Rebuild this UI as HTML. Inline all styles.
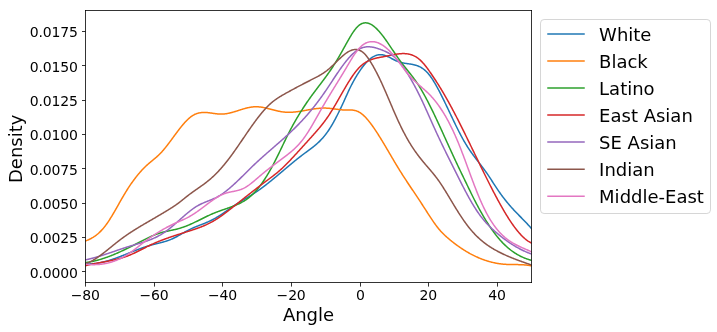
<!DOCTYPE html>
<html><head><meta charset="utf-8"><title>Angle density</title>
<style>html,body{margin:0;padding:0;background:#fff;}svg{display:block;}
text{font-family:"DejaVu Sans","Liberation Sans",sans-serif;}</style></head>
<body>
<svg width="717" height="332" viewBox="0 0 717 332">
<defs><clipPath id="ax"><rect x="85.5" y="10.5" width="446.0" height="272.0"/></clipPath></defs>
<rect x="0" y="0" width="717" height="332" fill="#fff"/>
<g clip-path="url(#ax)" fill="none" stroke-width="1.5" stroke-linejoin="round" stroke-linecap="square">
<path d="M84.50,263.68 L85.00,263.72 L85.50,263.76 L86.00,263.79 L86.50,263.82 L87.00,263.84 L87.50,263.86 L88.00,263.87 L88.50,263.88 L89.00,263.88 L89.50,263.88 L90.00,263.87 L90.50,263.85 L91.00,263.83 L91.50,263.81 L92.00,263.78 L92.50,263.75 L93.00,263.71 L93.50,263.67 L94.00,263.62 L94.50,263.57 L95.00,263.52 L95.50,263.46 L96.00,263.39 L96.50,263.33 L97.00,263.25 L97.50,263.18 L98.00,263.10 L98.50,263.01 L99.00,262.93 L99.50,262.83 L100.00,262.74 L100.50,262.64 L101.00,262.54 L101.50,262.43 L102.00,262.32 L102.50,262.21 L103.00,262.09 L103.50,261.97 L104.00,261.85 L104.50,261.72 L105.00,261.59 L105.50,261.46 L106.00,261.32 L106.50,261.19 L107.00,261.04 L107.50,260.90 L108.00,260.75 L108.50,260.60 L109.00,260.45 L109.50,260.30 L110.00,260.14 L110.50,259.98 L111.00,259.82 L111.50,259.66 L112.00,259.49 L112.50,259.32 L113.00,259.15 L113.50,258.98 L114.00,258.81 L114.50,258.63 L115.00,258.46 L115.50,258.28 L116.00,258.10 L116.50,257.91 L117.00,257.73 L117.50,257.54 L118.00,257.36 L118.50,257.17 L119.00,256.98 L119.50,256.79 L120.00,256.60 L120.50,256.40 L121.00,256.21 L121.50,256.01 L122.00,255.82 L122.50,255.62 L123.00,255.42 L123.50,255.23 L124.00,255.03 L124.50,254.83 L125.00,254.63 L125.50,254.43 L126.00,254.23 L126.50,254.03 L127.00,253.82 L127.50,253.62 L128.00,253.42 L128.50,253.22 L129.00,253.02 L129.50,252.82 L130.00,252.62 L130.50,252.41 L131.00,252.21 L131.50,252.01 L132.00,251.81 L132.50,251.61 L133.00,251.41 L133.50,251.22 L134.00,251.02 L134.50,250.82 L135.00,250.62 L135.50,250.43 L136.00,250.23 L136.50,250.04 L137.00,249.85 L137.50,249.66 L138.00,249.47 L138.50,249.28 L139.00,249.09 L139.50,248.90 L140.00,248.72 L140.50,248.53 L141.00,248.35 L141.50,248.17 L142.00,247.99 L142.50,247.82 L143.00,247.64 L143.50,247.47 L144.00,247.30 L144.50,247.13 L145.00,246.96 L145.50,246.80 L146.00,246.63 L146.50,246.47 L147.00,246.32 L147.50,246.16 L148.00,246.01 L148.50,245.86 L149.00,245.71 L149.50,245.56 L150.00,245.42 L150.50,245.28 L151.00,245.14 L151.50,245.01 L152.00,244.87 L152.50,244.74 L153.00,244.61 L153.50,244.49 L154.00,244.36 L154.50,244.23 L155.00,244.11 L155.50,243.99 L156.00,243.86 L156.50,243.74 L157.00,243.62 L157.50,243.50 L158.00,243.37 L158.50,243.25 L159.00,243.13 L159.50,243.00 L160.00,242.87 L160.50,242.75 L161.00,242.62 L161.50,242.49 L162.00,242.35 L162.50,242.22 L163.00,242.08 L163.50,241.94 L164.00,241.80 L164.50,241.65 L165.00,241.50 L165.50,241.35 L166.00,241.20 L166.50,241.04 L167.00,240.87 L167.50,240.70 L168.00,240.53 L168.50,240.36 L169.00,240.17 L169.50,239.99 L170.00,239.79 L170.50,239.60 L171.00,239.39 L171.50,239.18 L172.00,238.97 L172.50,238.75 L173.00,238.52 L173.50,238.28 L174.00,238.04 L174.50,237.80 L175.00,237.55 L175.50,237.29 L176.00,237.03 L176.50,236.77 L177.00,236.50 L177.50,236.23 L178.00,235.95 L178.50,235.67 L179.00,235.39 L179.50,235.11 L180.00,234.83 L180.50,234.54 L181.00,234.26 L181.50,233.97 L182.00,233.68 L182.50,233.40 L183.00,233.11 L183.50,232.82 L184.00,232.54 L184.50,232.26 L185.00,231.97 L185.50,231.69 L186.00,231.42 L186.50,231.14 L187.00,230.87 L187.50,230.61 L188.00,230.34 L188.50,230.08 L189.00,229.83 L189.50,229.58 L190.00,229.34 L190.50,229.10 L191.00,228.86 L191.50,228.63 L192.00,228.40 L192.50,228.18 L193.00,227.96 L193.50,227.74 L194.00,227.52 L194.50,227.31 L195.00,227.10 L195.50,226.90 L196.00,226.69 L196.50,226.49 L197.00,226.29 L197.50,226.09 L198.00,225.89 L198.50,225.69 L199.00,225.50 L199.50,225.30 L200.00,225.11 L200.50,224.91 L201.00,224.72 L201.50,224.52 L202.00,224.33 L202.50,224.13 L203.00,223.93 L203.50,223.73 L204.00,223.54 L204.50,223.33 L205.00,223.13 L205.50,222.93 L206.00,222.72 L206.50,222.51 L207.00,222.30 L207.50,222.08 L208.00,221.86 L208.50,221.64 L209.00,221.42 L209.50,221.19 L210.00,220.96 L210.50,220.72 L211.00,220.48 L211.50,220.23 L212.00,219.98 L212.50,219.73 L213.00,219.47 L213.50,219.20 L214.00,218.93 L214.50,218.65 L215.00,218.37 L215.50,218.09 L216.00,217.80 L216.50,217.50 L217.00,217.20 L217.50,216.90 L218.00,216.59 L218.50,216.28 L219.00,215.97 L219.50,215.65 L220.00,215.33 L220.50,215.01 L221.00,214.68 L221.50,214.35 L222.00,214.02 L222.50,213.69 L223.00,213.35 L223.50,213.01 L224.00,212.67 L224.50,212.33 L225.00,211.99 L225.50,211.65 L226.00,211.30 L226.50,210.96 L227.00,210.61 L227.50,210.27 L228.00,209.92 L228.50,209.58 L229.00,209.23 L229.50,208.88 L230.00,208.54 L230.50,208.19 L231.00,207.85 L231.50,207.51 L232.00,207.16 L232.50,206.82 L233.00,206.48 L233.50,206.15 L234.00,205.81 L234.50,205.48 L235.00,205.15 L235.50,204.82 L236.00,204.49 L236.50,204.17 L237.00,203.85 L237.50,203.53 L238.00,203.21 L238.50,202.90 L239.00,202.59 L239.50,202.28 L240.00,201.97 L240.50,201.66 L241.00,201.35 L241.50,201.05 L242.00,200.74 L242.50,200.44 L243.00,200.14 L243.50,199.84 L244.00,199.54 L244.50,199.23 L245.00,198.93 L245.50,198.63 L246.00,198.33 L246.50,198.03 L247.00,197.73 L247.50,197.43 L248.00,197.12 L248.50,196.82 L249.00,196.52 L249.50,196.21 L250.00,195.90 L250.50,195.59 L251.00,195.28 L251.50,194.97 L252.00,194.66 L252.50,194.34 L253.00,194.02 L253.50,193.70 L254.00,193.38 L254.50,193.06 L255.00,192.73 L255.50,192.40 L256.00,192.06 L256.50,191.72 L257.00,191.38 L257.50,191.04 L258.00,190.69 L258.50,190.34 L259.00,189.99 L259.50,189.64 L260.00,189.28 L260.50,188.92 L261.00,188.55 L261.50,188.19 L262.00,187.82 L262.50,187.45 L263.00,187.08 L263.50,186.70 L264.00,186.32 L264.50,185.94 L265.00,185.56 L265.50,185.17 L266.00,184.79 L266.50,184.40 L267.00,184.01 L267.50,183.61 L268.00,183.22 L268.50,182.82 L269.00,182.42 L269.50,182.02 L270.00,181.62 L270.50,181.22 L271.00,180.82 L271.50,180.41 L272.00,180.00 L272.50,179.59 L273.00,179.18 L273.50,178.77 L274.00,178.36 L274.50,177.95 L275.00,177.53 L275.50,177.12 L276.00,176.70 L276.50,176.28 L277.00,175.87 L277.50,175.45 L278.00,175.03 L278.50,174.61 L279.00,174.19 L279.50,173.77 L280.00,173.35 L280.50,172.92 L281.00,172.50 L281.50,172.08 L282.00,171.66 L282.50,171.23 L283.00,170.81 L283.50,170.39 L284.00,169.97 L284.50,169.54 L285.00,169.12 L285.50,168.70 L286.00,168.28 L286.50,167.85 L287.00,167.43 L287.50,167.01 L288.00,166.59 L288.50,166.17 L289.00,165.75 L289.50,165.33 L290.00,164.92 L290.50,164.50 L291.00,164.08 L291.50,163.67 L292.00,163.25 L292.50,162.84 L293.00,162.43 L293.50,162.02 L294.00,161.61 L294.50,161.20 L295.00,160.79 L295.50,160.38 L296.00,159.98 L296.50,159.58 L297.00,159.18 L297.50,158.78 L298.00,158.38 L298.50,157.98 L299.00,157.59 L299.50,157.19 L300.00,156.80 L300.50,156.41 L301.00,156.03 L301.50,155.64 L302.00,155.26 L302.50,154.88 L303.00,154.50 L303.50,154.12 L304.00,153.75 L304.50,153.38 L305.00,153.01 L305.50,152.64 L306.00,152.28 L306.50,151.91 L307.00,151.55 L307.50,151.18 L308.00,150.82 L308.50,150.45 L309.00,150.08 L309.50,149.71 L310.00,149.34 L310.50,148.97 L311.00,148.59 L311.50,148.21 L312.00,147.83 L312.50,147.44 L313.00,147.05 L313.50,146.65 L314.00,146.25 L314.50,145.84 L315.00,145.43 L315.50,145.01 L316.00,144.58 L316.50,144.15 L317.00,143.71 L317.50,143.26 L318.00,142.80 L318.50,142.33 L319.00,141.85 L319.50,141.37 L320.00,140.87 L320.50,140.36 L321.00,139.84 L321.50,139.31 L322.00,138.77 L322.50,138.22 L323.00,137.65 L323.50,137.08 L324.00,136.48 L324.50,135.88 L325.00,135.26 L325.50,134.62 L326.00,133.97 L326.50,133.31 L327.00,132.63 L327.50,131.93 L328.00,131.22 L328.50,130.49 L329.00,129.74 L329.50,128.97 L330.00,128.19 L330.50,127.39 L331.00,126.58 L331.50,125.75 L332.00,124.91 L332.50,124.05 L333.00,123.18 L333.50,122.29 L334.00,121.39 L334.50,120.48 L335.00,119.55 L335.50,118.61 L336.00,117.66 L336.50,116.70 L337.00,115.73 L337.50,114.74 L338.00,113.75 L338.50,112.74 L339.00,111.73 L339.50,110.70 L340.00,109.67 L340.50,108.62 L341.00,107.57 L341.50,106.51 L342.00,105.45 L342.50,104.37 L343.00,103.29 L343.50,102.20 L344.00,101.11 L344.50,100.01 L345.00,98.90 L345.50,97.79 L346.00,96.68 L346.50,95.57 L347.00,94.46 L347.50,93.36 L348.00,92.26 L348.50,91.18 L349.00,90.10 L349.50,89.05 L350.00,88.01 L350.50,86.99 L351.00,85.99 L351.50,85.01 L352.00,84.04 L352.50,83.09 L353.00,82.15 L353.50,81.24 L354.00,80.33 L354.50,79.45 L355.00,78.57 L355.50,77.72 L356.00,76.87 L356.50,76.04 L357.00,75.22 L357.50,74.42 L358.00,73.63 L358.50,72.85 L359.00,72.08 L359.50,71.33 L360.00,70.59 L360.50,69.86 L361.00,69.15 L361.50,68.45 L362.00,67.76 L362.50,67.09 L363.00,66.44 L363.50,65.80 L364.00,65.17 L364.50,64.56 L365.00,63.97 L365.50,63.39 L366.00,62.83 L366.50,62.29 L367.00,61.76 L367.50,61.25 L368.00,60.76 L368.50,60.29 L369.00,59.83 L369.50,59.39 L370.00,58.97 L370.50,58.57 L371.00,58.19 L371.50,57.83 L372.00,57.49 L372.50,57.16 L373.00,56.86 L373.50,56.57 L374.00,56.31 L374.50,56.06 L375.00,55.83 L375.50,55.63 L376.00,55.44 L376.50,55.27 L377.00,55.13 L377.50,55.00 L378.00,54.89 L378.50,54.81 L379.00,54.74 L379.50,54.70 L380.00,54.67 L380.50,54.67 L381.00,54.68 L381.50,54.72 L382.00,54.78 L382.50,54.85 L383.00,54.95 L383.50,55.06 L384.00,55.19 L384.50,55.34 L385.00,55.50 L385.50,55.67 L386.00,55.86 L386.50,56.06 L387.00,56.27 L387.50,56.48 L388.00,56.71 L388.50,56.94 L389.00,57.19 L389.50,57.43 L390.00,57.68 L390.50,57.94 L391.00,58.20 L391.50,58.46 L392.00,58.72 L392.50,58.98 L393.00,59.24 L393.50,59.50 L394.00,59.75 L394.50,60.00 L395.00,60.25 L395.50,60.49 L396.00,60.72 L396.50,60.94 L397.00,61.16 L397.50,61.36 L398.00,61.55 L398.50,61.74 L399.00,61.91 L399.50,62.07 L400.00,62.22 L400.50,62.36 L401.00,62.49 L401.50,62.61 L402.00,62.72 L402.50,62.83 L403.00,62.93 L403.50,63.03 L404.00,63.12 L404.50,63.21 L405.00,63.29 L405.50,63.37 L406.00,63.44 L406.50,63.52 L407.00,63.59 L407.50,63.66 L408.00,63.73 L408.50,63.80 L409.00,63.87 L409.50,63.95 L410.00,64.02 L410.50,64.10 L411.00,64.18 L411.50,64.27 L412.00,64.36 L412.50,64.45 L413.00,64.55 L413.50,64.66 L414.00,64.77 L414.50,64.90 L415.00,65.03 L415.50,65.17 L416.00,65.32 L416.50,65.47 L417.00,65.64 L417.50,65.82 L418.00,66.02 L418.50,66.22 L419.00,66.44 L419.50,66.67 L420.00,66.92 L420.50,67.18 L421.00,67.46 L421.50,67.75 L422.00,68.07 L422.50,68.39 L423.00,68.74 L423.50,69.10 L424.00,69.49 L424.50,69.89 L425.00,70.32 L425.50,70.76 L426.00,71.23 L426.50,71.72 L427.00,72.23 L427.50,72.77 L428.00,73.33 L428.50,73.92 L429.00,74.53 L429.50,75.16 L430.00,75.82 L430.50,76.49 L431.00,77.19 L431.50,77.91 L432.00,78.65 L432.50,79.41 L433.00,80.19 L433.50,80.98 L434.00,81.80 L434.50,82.63 L435.00,83.47 L435.50,84.33 L436.00,85.20 L436.50,86.09 L437.00,86.99 L437.50,87.91 L438.00,88.83 L438.50,89.76 L439.00,90.71 L439.50,91.67 L440.00,92.63 L440.50,93.60 L441.00,94.59 L441.50,95.58 L442.00,96.58 L442.50,97.58 L443.00,98.59 L443.50,99.61 L444.00,100.63 L444.50,101.66 L445.00,102.70 L445.50,103.74 L446.00,104.78 L446.50,105.82 L447.00,106.87 L447.50,107.92 L448.00,108.98 L448.50,110.03 L449.00,111.09 L449.50,112.15 L450.00,113.20 L450.50,114.26 L451.00,115.31 L451.50,116.37 L452.00,117.42 L452.50,118.47 L453.00,119.52 L453.50,120.57 L454.00,121.61 L454.50,122.65 L455.00,123.68 L455.50,124.71 L456.00,125.74 L456.50,126.75 L457.00,127.77 L457.50,128.77 L458.00,129.77 L458.50,130.76 L459.00,131.74 L459.50,132.71 L460.00,133.68 L460.50,134.63 L461.00,135.58 L461.50,136.52 L462.00,137.44 L462.50,138.35 L463.00,139.25 L463.50,140.14 L464.00,141.02 L464.50,141.88 L465.00,142.73 L465.50,143.57 L466.00,144.39 L466.50,145.20 L467.00,146.00 L467.50,146.78 L468.00,147.55 L468.50,148.32 L469.00,149.07 L469.50,149.81 L470.00,150.55 L470.50,151.27 L471.00,151.99 L471.50,152.69 L472.00,153.39 L472.50,154.09 L473.00,154.78 L473.50,155.46 L474.00,156.13 L474.50,156.80 L475.00,157.47 L475.50,158.13 L476.00,158.79 L476.50,159.45 L477.00,160.10 L477.50,160.75 L478.00,161.40 L478.50,162.05 L479.00,162.70 L479.50,163.35 L480.00,164.00 L480.50,164.65 L481.00,165.31 L481.50,165.96 L482.00,166.62 L482.50,167.28 L483.00,167.94 L483.50,168.61 L484.00,169.28 L484.50,169.96 L485.00,170.64 L485.50,171.33 L486.00,172.02 L486.50,172.73 L487.00,173.43 L487.50,174.15 L488.00,174.88 L488.50,175.61 L489.00,176.36 L489.50,177.11 L490.00,177.88 L490.50,178.65 L491.00,179.42 L491.50,180.20 L492.00,180.98 L492.50,181.77 L493.00,182.55 L493.50,183.34 L494.00,184.12 L494.50,184.90 L495.00,185.67 L495.50,186.43 L496.00,187.19 L496.50,187.94 L497.00,188.68 L497.50,189.42 L498.00,190.15 L498.50,190.88 L499.00,191.59 L499.50,192.30 L500.00,193.01 L500.50,193.70 L501.00,194.39 L501.50,195.08 L502.00,195.76 L502.50,196.43 L503.00,197.09 L503.50,197.75 L504.00,198.40 L504.50,199.05 L505.00,199.68 L505.50,200.32 L506.00,200.94 L506.50,201.56 L507.00,202.18 L507.50,202.79 L508.00,203.39 L508.50,203.98 L509.00,204.57 L509.50,205.15 L510.00,205.73 L510.50,206.30 L511.00,206.87 L511.50,207.43 L512.00,207.98 L512.50,208.53 L513.00,209.08 L513.50,209.62 L514.00,210.15 L514.50,210.69 L515.00,211.22 L515.50,211.74 L516.00,212.27 L516.50,212.79 L517.00,213.30 L517.50,213.82 L518.00,214.33 L518.50,214.85 L519.00,215.36 L519.50,215.87 L520.00,216.38 L520.50,216.89 L521.00,217.40 L521.50,217.90 L522.00,218.41 L522.50,218.92 L523.00,219.43 L523.50,219.95 L524.00,220.46 L524.50,220.98 L525.00,221.49 L525.50,222.01 L526.00,222.54 L526.50,223.06 L527.00,223.59 L527.50,224.12 L528.00,224.66 L528.50,225.20 L529.00,225.74 L529.50,226.29 L530.00,226.84 L530.50,227.40 L531.00,227.96 L531.50,228.53 L532.00,229.11 L532.50,229.69" stroke="#1f77b4"/>
<path d="M84.50,241.34 L85.00,241.16 L85.50,240.98 L86.00,240.79 L86.50,240.59 L87.00,240.39 L87.50,240.18 L88.00,239.97 L88.50,239.75 L89.00,239.51 L89.50,239.28 L90.00,239.03 L90.50,238.77 L91.00,238.51 L91.50,238.23 L92.00,237.95 L92.50,237.66 L93.00,237.36 L93.50,237.04 L94.00,236.72 L94.50,236.38 L95.00,236.04 L95.50,235.68 L96.00,235.31 L96.50,234.92 L97.00,234.53 L97.50,234.12 L98.00,233.70 L98.50,233.26 L99.00,232.82 L99.50,232.35 L100.00,231.88 L100.50,231.39 L101.00,230.88 L101.50,230.36 L102.00,229.82 L102.50,229.27 L103.00,228.70 L103.50,228.11 L104.00,227.51 L104.50,226.89 L105.00,226.25 L105.50,225.60 L106.00,224.92 L106.50,224.24 L107.00,223.53 L107.50,222.81 L108.00,222.08 L108.50,221.33 L109.00,220.57 L109.50,219.80 L110.00,219.01 L110.50,218.22 L111.00,217.41 L111.50,216.60 L112.00,215.77 L112.50,214.94 L113.00,214.10 L113.50,213.25 L114.00,212.39 L114.50,211.53 L115.00,210.66 L115.50,209.79 L116.00,208.92 L116.50,208.04 L117.00,207.16 L117.50,206.28 L118.00,205.40 L118.50,204.51 L119.00,203.63 L119.50,202.74 L120.00,201.86 L120.50,200.98 L121.00,200.11 L121.50,199.23 L122.00,198.36 L122.50,197.50 L123.00,196.64 L123.50,195.78 L124.00,194.94 L124.50,194.10 L125.00,193.26 L125.50,192.44 L126.00,191.63 L126.50,190.82 L127.00,190.02 L127.50,189.24 L128.00,188.46 L128.50,187.68 L129.00,186.92 L129.50,186.17 L130.00,185.42 L130.50,184.68 L131.00,183.95 L131.50,183.23 L132.00,182.52 L132.50,181.82 L133.00,181.12 L133.50,180.44 L134.00,179.76 L134.50,179.09 L135.00,178.43 L135.50,177.78 L136.00,177.13 L136.50,176.50 L137.00,175.87 L137.50,175.25 L138.00,174.64 L138.50,174.04 L139.00,173.45 L139.50,172.86 L140.00,172.29 L140.50,171.72 L141.00,171.16 L141.50,170.61 L142.00,170.06 L142.50,169.53 L143.00,169.00 L143.50,168.48 L144.00,167.97 L144.50,167.47 L145.00,166.98 L145.50,166.49 L146.00,166.01 L146.50,165.55 L147.00,165.09 L147.50,164.63 L148.00,164.19 L148.50,163.75 L149.00,163.32 L149.50,162.90 L150.00,162.48 L150.50,162.06 L151.00,161.65 L151.50,161.24 L152.00,160.83 L152.50,160.42 L153.00,160.01 L153.50,159.60 L154.00,159.19 L154.50,158.77 L155.00,158.35 L155.50,157.93 L156.00,157.50 L156.50,157.07 L157.00,156.63 L157.50,156.18 L158.00,155.72 L158.50,155.25 L159.00,154.77 L159.50,154.28 L160.00,153.78 L160.50,153.27 L161.00,152.74 L161.50,152.20 L162.00,151.65 L162.50,151.09 L163.00,150.51 L163.50,149.93 L164.00,149.34 L164.50,148.74 L165.00,148.13 L165.50,147.51 L166.00,146.89 L166.50,146.25 L167.00,145.62 L167.50,144.97 L168.00,144.32 L168.50,143.66 L169.00,143.00 L169.50,142.34 L170.00,141.67 L170.50,141.00 L171.00,140.32 L171.50,139.65 L172.00,138.97 L172.50,138.29 L173.00,137.61 L173.50,136.93 L174.00,136.24 L174.50,135.56 L175.00,134.89 L175.50,134.21 L176.00,133.53 L176.50,132.86 L177.00,132.19 L177.50,131.53 L178.00,130.86 L178.50,130.21 L179.00,129.56 L179.50,128.91 L180.00,128.27 L180.50,127.64 L181.00,127.01 L181.50,126.39 L182.00,125.78 L182.50,125.18 L183.00,124.58 L183.50,124.00 L184.00,123.43 L184.50,122.86 L185.00,122.31 L185.50,121.77 L186.00,121.24 L186.50,120.72 L187.00,120.22 L187.50,119.73 L188.00,119.25 L188.50,118.79 L189.00,118.34 L189.50,117.91 L190.00,117.50 L190.50,117.10 L191.00,116.71 L191.50,116.35 L192.00,116.00 L192.50,115.67 L193.00,115.36 L193.50,115.07 L194.00,114.80 L194.50,114.54 L195.00,114.30 L195.50,114.08 L196.00,113.88 L196.50,113.69 L197.00,113.52 L197.50,113.36 L198.00,113.21 L198.50,113.09 L199.00,112.97 L199.50,112.87 L200.00,112.78 L200.50,112.70 L201.00,112.63 L201.50,112.58 L202.00,112.54 L202.50,112.50 L203.00,112.48 L203.50,112.46 L204.00,112.46 L204.50,112.46 L205.00,112.47 L205.50,112.49 L206.00,112.51 L206.50,112.55 L207.00,112.58 L207.50,112.62 L208.00,112.67 L208.50,112.72 L209.00,112.78 L209.50,112.84 L210.00,112.90 L210.50,112.97 L211.00,113.04 L211.50,113.11 L212.00,113.18 L212.50,113.25 L213.00,113.32 L213.50,113.39 L214.00,113.46 L214.50,113.53 L215.00,113.59 L215.50,113.66 L216.00,113.72 L216.50,113.78 L217.00,113.84 L217.50,113.89 L218.00,113.94 L218.50,113.98 L219.00,114.01 L219.50,114.04 L220.00,114.07 L220.50,114.08 L221.00,114.09 L221.50,114.09 L222.00,114.09 L222.50,114.07 L223.00,114.05 L223.50,114.01 L224.00,113.97 L224.50,113.92 L225.00,113.87 L225.50,113.80 L226.00,113.73 L226.50,113.65 L227.00,113.57 L227.50,113.48 L228.00,113.38 L228.50,113.28 L229.00,113.17 L229.50,113.06 L230.00,112.94 L230.50,112.82 L231.00,112.70 L231.50,112.56 L232.00,112.43 L232.50,112.29 L233.00,112.15 L233.50,112.01 L234.00,111.86 L234.50,111.71 L235.00,111.56 L235.50,111.41 L236.00,111.25 L236.50,111.09 L237.00,110.94 L237.50,110.78 L238.00,110.62 L238.50,110.46 L239.00,110.30 L239.50,110.14 L240.00,109.98 L240.50,109.82 L241.00,109.66 L241.50,109.51 L242.00,109.35 L242.50,109.20 L243.00,109.05 L243.50,108.90 L244.00,108.76 L244.50,108.61 L245.00,108.47 L245.50,108.34 L246.00,108.20 L246.50,108.08 L247.00,107.95 L247.50,107.83 L248.00,107.72 L248.50,107.61 L249.00,107.50 L249.50,107.40 L250.00,107.31 L250.50,107.22 L251.00,107.14 L251.50,107.06 L252.00,107.00 L252.50,106.94 L253.00,106.88 L253.50,106.84 L254.00,106.80 L254.50,106.77 L255.00,106.75 L255.50,106.74 L256.00,106.73 L256.50,106.74 L257.00,106.75 L257.50,106.77 L258.00,106.80 L258.50,106.84 L259.00,106.88 L259.50,106.93 L260.00,106.98 L260.50,107.04 L261.00,107.11 L261.50,107.18 L262.00,107.26 L262.50,107.34 L263.00,107.43 L263.50,107.52 L264.00,107.62 L264.50,107.72 L265.00,107.83 L265.50,107.94 L266.00,108.05 L266.50,108.16 L267.00,108.28 L267.50,108.40 L268.00,108.52 L268.50,108.65 L269.00,108.77 L269.50,108.90 L270.00,109.03 L270.50,109.16 L271.00,109.29 L271.50,109.42 L272.00,109.55 L272.50,109.68 L273.00,109.81 L273.50,109.94 L274.00,110.07 L274.50,110.20 L275.00,110.33 L275.50,110.45 L276.00,110.57 L276.50,110.69 L277.00,110.81 L277.50,110.93 L278.00,111.04 L278.50,111.15 L279.00,111.26 L279.50,111.36 L280.00,111.46 L280.50,111.55 L281.00,111.64 L281.50,111.72 L282.00,111.80 L282.50,111.88 L283.00,111.95 L283.50,112.01 L284.00,112.07 L284.50,112.12 L285.00,112.16 L285.50,112.20 L286.00,112.23 L286.50,112.26 L287.00,112.28 L287.50,112.29 L288.00,112.30 L288.50,112.31 L289.00,112.31 L289.50,112.30 L290.00,112.29 L290.50,112.28 L291.00,112.26 L291.50,112.24 L292.00,112.21 L292.50,112.18 L293.00,112.14 L293.50,112.10 L294.00,112.06 L294.50,112.01 L295.00,111.96 L295.50,111.91 L296.00,111.85 L296.50,111.79 L297.00,111.73 L297.50,111.66 L298.00,111.59 L298.50,111.52 L299.00,111.45 L299.50,111.38 L300.00,111.30 L300.50,111.22 L301.00,111.14 L301.50,111.06 L302.00,110.98 L302.50,110.89 L303.00,110.81 L303.50,110.72 L304.00,110.64 L304.50,110.55 L305.00,110.46 L305.50,110.37 L306.00,110.28 L306.50,110.19 L307.00,110.10 L307.50,110.01 L308.00,109.93 L308.50,109.84 L309.00,109.75 L309.50,109.66 L310.00,109.58 L310.50,109.49 L311.00,109.41 L311.50,109.32 L312.00,109.24 L312.50,109.16 L313.00,109.08 L313.50,109.01 L314.00,108.93 L314.50,108.86 L315.00,108.79 L315.50,108.72 L316.00,108.66 L316.50,108.60 L317.00,108.54 L317.50,108.48 L318.00,108.43 L318.50,108.38 L319.00,108.33 L319.50,108.29 L320.00,108.25 L320.50,108.21 L321.00,108.18 L321.50,108.15 L322.00,108.13 L322.50,108.11 L323.00,108.09 L323.50,108.08 L324.00,108.08 L324.50,108.08 L325.00,108.08 L325.50,108.09 L326.00,108.11 L326.50,108.13 L327.00,108.15 L327.50,108.18 L328.00,108.22 L328.50,108.26 L329.00,108.30 L329.50,108.35 L330.00,108.40 L330.50,108.45 L331.00,108.51 L331.50,108.57 L332.00,108.63 L332.50,108.69 L333.00,108.75 L333.50,108.82 L334.00,108.89 L334.50,108.95 L335.00,109.02 L335.50,109.09 L336.00,109.16 L336.50,109.22 L337.00,109.29 L337.50,109.35 L338.00,109.42 L338.50,109.48 L339.00,109.54 L339.50,109.60 L340.00,109.65 L340.50,109.70 L341.00,109.75 L341.50,109.80 L342.00,109.84 L342.50,109.88 L343.00,109.91 L343.50,109.94 L344.00,109.96 L344.50,109.98 L345.00,109.99 L345.50,110.00 L346.00,110.00 L346.50,110.00 L347.00,109.99 L347.50,109.99 L348.00,109.98 L348.50,109.98 L349.00,109.98 L349.50,109.98 L350.00,109.98 L350.50,109.99 L351.00,110.01 L351.50,110.03 L352.00,110.06 L352.50,110.11 L353.00,110.16 L353.50,110.23 L354.00,110.30 L354.50,110.40 L355.00,110.50 L355.50,110.63 L356.00,110.77 L356.50,110.93 L357.00,111.11 L357.50,111.32 L358.00,111.54 L358.50,111.79 L359.00,112.05 L359.50,112.34 L360.00,112.65 L360.50,112.99 L361.00,113.34 L361.50,113.71 L362.00,114.10 L362.50,114.51 L363.00,114.93 L363.50,115.38 L364.00,115.84 L364.50,116.32 L365.00,116.82 L365.50,117.33 L366.00,117.86 L366.50,118.41 L367.00,118.97 L367.50,119.54 L368.00,120.13 L368.50,120.73 L369.00,121.35 L369.50,121.98 L370.00,122.62 L370.50,123.27 L371.00,123.93 L371.50,124.61 L372.00,125.30 L372.50,125.99 L373.00,126.70 L373.50,127.41 L374.00,128.14 L374.50,128.87 L375.00,129.61 L375.50,130.36 L376.00,131.12 L376.50,131.88 L377.00,132.65 L377.50,133.43 L378.00,134.21 L378.50,135.00 L379.00,135.79 L379.50,136.59 L380.00,137.39 L380.50,138.20 L381.00,139.01 L381.50,139.83 L382.00,140.65 L382.50,141.47 L383.00,142.30 L383.50,143.13 L384.00,143.96 L384.50,144.80 L385.00,145.64 L385.50,146.48 L386.00,147.32 L386.50,148.17 L387.00,149.02 L387.50,149.87 L388.00,150.72 L388.50,151.57 L389.00,152.42 L389.50,153.27 L390.00,154.12 L390.50,154.97 L391.00,155.82 L391.50,156.67 L392.00,157.52 L392.50,158.37 L393.00,159.22 L393.50,160.07 L394.00,160.91 L394.50,161.76 L395.00,162.60 L395.50,163.43 L396.00,164.27 L396.50,165.10 L397.00,165.93 L397.50,166.76 L398.00,167.58 L398.50,168.40 L399.00,169.21 L399.50,170.02 L400.00,170.83 L400.50,171.63 L401.00,172.43 L401.50,173.22 L402.00,174.01 L402.50,174.80 L403.00,175.58 L403.50,176.36 L404.00,177.13 L404.50,177.90 L405.00,178.67 L405.50,179.44 L406.00,180.20 L406.50,180.96 L407.00,181.72 L407.50,182.47 L408.00,183.23 L408.50,183.98 L409.00,184.73 L409.50,185.48 L410.00,186.23 L410.50,186.98 L411.00,187.72 L411.50,188.47 L412.00,189.21 L412.50,189.96 L413.00,190.70 L413.50,191.44 L414.00,192.19 L414.50,192.93 L415.00,193.68 L415.50,194.42 L416.00,195.17 L416.50,195.91 L417.00,196.66 L417.50,197.41 L418.00,198.16 L418.50,198.91 L419.00,199.67 L419.50,200.42 L420.00,201.18 L420.50,201.94 L421.00,202.70 L421.50,203.47 L422.00,204.23 L422.50,205.00 L423.00,205.78 L423.50,206.55 L424.00,207.33 L424.50,208.11 L425.00,208.90 L425.50,209.68 L426.00,210.46 L426.50,211.24 L427.00,212.02 L427.50,212.80 L428.00,213.58 L428.50,214.36 L429.00,215.13 L429.50,215.90 L430.00,216.67 L430.50,217.43 L431.00,218.18 L431.50,218.93 L432.00,219.68 L432.50,220.42 L433.00,221.15 L433.50,221.87 L434.00,222.58 L434.50,223.29 L435.00,223.99 L435.50,224.68 L436.00,225.35 L436.50,226.02 L437.00,226.67 L437.50,227.32 L438.00,227.95 L438.50,228.57 L439.00,229.17 L439.50,229.76 L440.00,230.34 L440.50,230.91 L441.00,231.46 L441.50,232.00 L442.00,232.53 L442.50,233.04 L443.00,233.55 L443.50,234.05 L444.00,234.54 L444.50,235.02 L445.00,235.49 L445.50,235.95 L446.00,236.40 L446.50,236.85 L447.00,237.30 L447.50,237.73 L448.00,238.16 L448.50,238.59 L449.00,239.01 L449.50,239.43 L450.00,239.84 L450.50,240.26 L451.00,240.66 L451.50,241.07 L452.00,241.47 L452.50,241.87 L453.00,242.26 L453.50,242.65 L454.00,243.04 L454.50,243.42 L455.00,243.80 L455.50,244.18 L456.00,244.55 L456.50,244.92 L457.00,245.29 L457.50,245.65 L458.00,246.01 L458.50,246.36 L459.00,246.71 L459.50,247.06 L460.00,247.41 L460.50,247.75 L461.00,248.09 L461.50,248.42 L462.00,248.75 L462.50,249.08 L463.00,249.40 L463.50,249.72 L464.00,250.04 L464.50,250.35 L465.00,250.66 L465.50,250.97 L466.00,251.27 L466.50,251.57 L467.00,251.87 L467.50,252.16 L468.00,252.45 L468.50,252.74 L469.00,253.02 L469.50,253.30 L470.00,253.57 L470.50,253.85 L471.00,254.11 L471.50,254.38 L472.00,254.64 L472.50,254.90 L473.00,255.15 L473.50,255.40 L474.00,255.65 L474.50,255.90 L475.00,256.14 L475.50,256.37 L476.00,256.61 L476.50,256.84 L477.00,257.06 L477.50,257.29 L478.00,257.51 L478.50,257.72 L479.00,257.94 L479.50,258.15 L480.00,258.35 L480.50,258.56 L481.00,258.75 L481.50,258.95 L482.00,259.14 L482.50,259.33 L483.00,259.52 L483.50,259.70 L484.00,259.88 L484.50,260.05 L485.00,260.23 L485.50,260.39 L486.00,260.56 L486.50,260.72 L487.00,260.88 L487.50,261.03 L488.00,261.18 L488.50,261.33 L489.00,261.48 L489.50,261.62 L490.00,261.75 L490.50,261.89 L491.00,262.02 L491.50,262.15 L492.00,262.27 L492.50,262.39 L493.00,262.51 L493.50,262.62 L494.00,262.73 L494.50,262.84 L495.00,262.94 L495.50,263.04 L496.00,263.14 L496.50,263.23 L497.00,263.32 L497.50,263.41 L498.00,263.49 L498.50,263.57 L499.00,263.64 L499.50,263.72 L500.00,263.79 L500.50,263.85 L501.00,263.91 L501.50,263.97 L502.00,264.03 L502.50,264.08 L503.00,264.13 L503.50,264.17 L504.00,264.22 L504.50,264.26 L505.00,264.29 L505.50,264.32 L506.00,264.35 L506.50,264.38 L507.00,264.40 L507.50,264.43 L508.00,264.44 L508.50,264.46 L509.00,264.48 L509.50,264.49 L510.00,264.50 L510.50,264.51 L511.00,264.52 L511.50,264.53 L512.00,264.54 L512.50,264.55 L513.00,264.55 L513.50,264.56 L514.00,264.56 L514.50,264.57 L515.00,264.57 L515.50,264.58 L516.00,264.59 L516.50,264.59 L517.00,264.60 L517.50,264.61 L518.00,264.62 L518.50,264.63 L519.00,264.64 L519.50,264.65 L520.00,264.67 L520.50,264.69 L521.00,264.71 L521.50,264.73 L522.00,264.75 L522.50,264.78 L523.00,264.81 L523.50,264.84 L524.00,264.87 L524.50,264.91 L525.00,264.95 L525.50,265.00 L526.00,265.05 L526.50,265.10 L527.00,265.16 L527.50,265.22 L528.00,265.28 L528.50,265.35 L529.00,265.43 L529.50,265.51 L530.00,265.59 L530.50,265.68 L531.00,265.77 L531.50,265.87 L532.00,265.98 L532.50,266.09" stroke="#ff7f0e"/>
<path d="M84.50,262.67 L85.00,262.62 L85.50,262.56 L86.00,262.50 L86.50,262.43 L87.00,262.36 L87.50,262.29 L88.00,262.22 L88.50,262.14 L89.00,262.06 L89.50,261.97 L90.00,261.89 L90.50,261.79 L91.00,261.70 L91.50,261.60 L92.00,261.50 L92.50,261.40 L93.00,261.29 L93.50,261.18 L94.00,261.07 L94.50,260.96 L95.00,260.84 L95.50,260.72 L96.00,260.59 L96.50,260.47 L97.00,260.34 L97.50,260.20 L98.00,260.07 L98.50,259.93 L99.00,259.79 L99.50,259.65 L100.00,259.50 L100.50,259.35 L101.00,259.20 L101.50,259.05 L102.00,258.89 L102.50,258.73 L103.00,258.57 L103.50,258.41 L104.00,258.24 L104.50,258.07 L105.00,257.90 L105.50,257.73 L106.00,257.56 L106.50,257.38 L107.00,257.20 L107.50,257.02 L108.00,256.83 L108.50,256.65 L109.00,256.46 L109.50,256.27 L110.00,256.08 L110.50,255.88 L111.00,255.69 L111.50,255.49 L112.00,255.29 L112.50,255.09 L113.00,254.88 L113.50,254.68 L114.00,254.47 L114.50,254.26 L115.00,254.05 L115.50,253.84 L116.00,253.63 L116.50,253.41 L117.00,253.19 L117.50,252.97 L118.00,252.75 L118.50,252.53 L119.00,252.31 L119.50,252.08 L120.00,251.85 L120.50,251.63 L121.00,251.40 L121.50,251.17 L122.00,250.93 L122.50,250.70 L123.00,250.47 L123.50,250.23 L124.00,249.99 L124.50,249.76 L125.00,249.52 L125.50,249.28 L126.00,249.03 L126.50,248.79 L127.00,248.55 L127.50,248.30 L128.00,248.06 L128.50,247.81 L129.00,247.56 L129.50,247.31 L130.00,247.06 L130.50,246.81 L131.00,246.56 L131.50,246.31 L132.00,246.06 L132.50,245.81 L133.00,245.55 L133.50,245.30 L134.00,245.04 L134.50,244.79 L135.00,244.53 L135.50,244.27 L136.00,244.02 L136.50,243.76 L137.00,243.50 L137.50,243.24 L138.00,242.98 L138.50,242.72 L139.00,242.46 L139.50,242.20 L140.00,241.94 L140.50,241.68 L141.00,241.42 L141.50,241.16 L142.00,240.91 L142.50,240.65 L143.00,240.39 L143.50,240.13 L144.00,239.88 L144.50,239.63 L145.00,239.37 L145.50,239.12 L146.00,238.87 L146.50,238.62 L147.00,238.38 L147.50,238.13 L148.00,237.89 L148.50,237.65 L149.00,237.41 L149.50,237.18 L150.00,236.94 L150.50,236.71 L151.00,236.49 L151.50,236.26 L152.00,236.04 L152.50,235.82 L153.00,235.61 L153.50,235.40 L154.00,235.19 L154.50,234.99 L155.00,234.79 L155.50,234.59 L156.00,234.40 L156.50,234.21 L157.00,234.03 L157.50,233.85 L158.00,233.68 L158.50,233.51 L159.00,233.34 L159.50,233.18 L160.00,233.03 L160.50,232.88 L161.00,232.73 L161.50,232.59 L162.00,232.45 L162.50,232.32 L163.00,232.19 L163.50,232.06 L164.00,231.94 L164.50,231.82 L165.00,231.70 L165.50,231.58 L166.00,231.47 L166.50,231.36 L167.00,231.24 L167.50,231.14 L168.00,231.03 L168.50,230.92 L169.00,230.81 L169.50,230.71 L170.00,230.60 L170.50,230.50 L171.00,230.39 L171.50,230.28 L172.00,230.18 L172.50,230.07 L173.00,229.96 L173.50,229.85 L174.00,229.74 L174.50,229.63 L175.00,229.51 L175.50,229.40 L176.00,229.28 L176.50,229.15 L177.00,229.03 L177.50,228.90 L178.00,228.77 L178.50,228.64 L179.00,228.50 L179.50,228.36 L180.00,228.21 L180.50,228.06 L181.00,227.90 L181.50,227.74 L182.00,227.58 L182.50,227.41 L183.00,227.24 L183.50,227.06 L184.00,226.89 L184.50,226.70 L185.00,226.52 L185.50,226.33 L186.00,226.13 L186.50,225.94 L187.00,225.74 L187.50,225.53 L188.00,225.33 L188.50,225.12 L189.00,224.91 L189.50,224.69 L190.00,224.48 L190.50,224.26 L191.00,224.03 L191.50,223.81 L192.00,223.58 L192.50,223.35 L193.00,223.12 L193.50,222.89 L194.00,222.65 L194.50,222.42 L195.00,222.18 L195.50,221.94 L196.00,221.70 L196.50,221.45 L197.00,221.21 L197.50,220.96 L198.00,220.72 L198.50,220.47 L199.00,220.22 L199.50,219.97 L200.00,219.72 L200.50,219.48 L201.00,219.23 L201.50,218.98 L202.00,218.73 L202.50,218.48 L203.00,218.23 L203.50,217.98 L204.00,217.73 L204.50,217.49 L205.00,217.24 L205.50,217.00 L206.00,216.75 L206.50,216.51 L207.00,216.27 L207.50,216.03 L208.00,215.80 L208.50,215.56 L209.00,215.33 L209.50,215.10 L210.00,214.87 L210.50,214.64 L211.00,214.42 L211.50,214.20 L212.00,213.98 L212.50,213.76 L213.00,213.55 L213.50,213.34 L214.00,213.13 L214.50,212.93 L215.00,212.73 L215.50,212.53 L216.00,212.34 L216.50,212.15 L217.00,211.96 L217.50,211.77 L218.00,211.58 L218.50,211.40 L219.00,211.22 L219.50,211.03 L220.00,210.86 L220.50,210.68 L221.00,210.50 L221.50,210.32 L222.00,210.15 L222.50,209.97 L223.00,209.80 L223.50,209.63 L224.00,209.45 L224.50,209.28 L225.00,209.11 L225.50,208.94 L226.00,208.76 L226.50,208.59 L227.00,208.42 L227.50,208.24 L228.00,208.07 L228.50,207.89 L229.00,207.71 L229.50,207.53 L230.00,207.35 L230.50,207.17 L231.00,206.99 L231.50,206.81 L232.00,206.62 L232.50,206.43 L233.00,206.24 L233.50,206.05 L234.00,205.85 L234.50,205.65 L235.00,205.45 L235.50,205.25 L236.00,205.04 L236.50,204.83 L237.00,204.62 L237.50,204.40 L238.00,204.17 L238.50,203.95 L239.00,203.71 L239.50,203.48 L240.00,203.23 L240.50,202.98 L241.00,202.73 L241.50,202.46 L242.00,202.19 L242.50,201.92 L243.00,201.64 L243.50,201.34 L244.00,201.05 L244.50,200.74 L245.00,200.42 L245.50,200.10 L246.00,199.76 L246.50,199.42 L247.00,199.07 L247.50,198.71 L248.00,198.33 L248.50,197.95 L249.00,197.56 L249.50,197.15 L250.00,196.73 L250.50,196.30 L251.00,195.86 L251.50,195.41 L252.00,194.95 L252.50,194.47 L253.00,193.98 L253.50,193.48 L254.00,192.97 L254.50,192.44 L255.00,191.91 L255.50,191.36 L256.00,190.80 L256.50,190.22 L257.00,189.64 L257.50,189.04 L258.00,188.44 L258.50,187.82 L259.00,187.18 L259.50,186.54 L260.00,185.89 L260.50,185.22 L261.00,184.55 L261.50,183.86 L262.00,183.16 L262.50,182.45 L263.00,181.73 L263.50,180.99 L264.00,180.25 L264.50,179.49 L265.00,178.73 L265.50,177.95 L266.00,177.16 L266.50,176.36 L267.00,175.55 L267.50,174.73 L268.00,173.90 L268.50,173.06 L269.00,172.20 L269.50,171.34 L270.00,170.46 L270.50,169.58 L271.00,168.68 L271.50,167.78 L272.00,166.86 L272.50,165.93 L273.00,165.00 L273.50,164.05 L274.00,163.09 L274.50,162.12 L275.00,161.15 L275.50,160.16 L276.00,159.17 L276.50,158.16 L277.00,157.16 L277.50,156.14 L278.00,155.12 L278.50,154.09 L279.00,153.06 L279.50,152.03 L280.00,150.99 L280.50,149.95 L281.00,148.91 L281.50,147.87 L282.00,146.82 L282.50,145.78 L283.00,144.74 L283.50,143.70 L284.00,142.66 L284.50,141.62 L285.00,140.59 L285.50,139.56 L286.00,138.53 L286.50,137.51 L287.00,136.50 L287.50,135.49 L288.00,134.49 L288.50,133.50 L289.00,132.52 L289.50,131.54 L290.00,130.58 L290.50,129.62 L291.00,128.68 L291.50,127.74 L292.00,126.81 L292.50,125.88 L293.00,124.97 L293.50,124.06 L294.00,123.17 L294.50,122.28 L295.00,121.40 L295.50,120.52 L296.00,119.65 L296.50,118.80 L297.00,117.94 L297.50,117.10 L298.00,116.26 L298.50,115.43 L299.00,114.61 L299.50,113.79 L300.00,112.98 L300.50,112.18 L301.00,111.38 L301.50,110.59 L302.00,109.81 L302.50,109.03 L303.00,108.25 L303.50,107.49 L304.00,106.73 L304.50,105.97 L305.00,105.22 L305.50,104.48 L306.00,103.74 L306.50,103.00 L307.00,102.27 L307.50,101.55 L308.00,100.83 L308.50,100.12 L309.00,99.40 L309.50,98.70 L310.00,98.00 L310.50,97.30 L311.00,96.61 L311.50,95.92 L312.00,95.23 L312.50,94.55 L313.00,93.87 L313.50,93.19 L314.00,92.52 L314.50,91.85 L315.00,91.19 L315.50,90.52 L316.00,89.86 L316.50,89.20 L317.00,88.54 L317.50,87.88 L318.00,87.22 L318.50,86.57 L319.00,85.91 L319.50,85.25 L320.00,84.60 L320.50,83.94 L321.00,83.28 L321.50,82.62 L322.00,81.96 L322.50,81.30 L323.00,80.63 L323.50,79.97 L324.00,79.30 L324.50,78.62 L325.00,77.95 L325.50,77.27 L326.00,76.59 L326.50,75.90 L327.00,75.21 L327.50,74.51 L328.00,73.81 L328.50,73.11 L329.00,72.40 L329.50,71.68 L330.00,70.96 L330.50,70.23 L331.00,69.50 L331.50,68.75 L332.00,68.01 L332.50,67.25 L333.00,66.49 L333.50,65.71 L334.00,64.93 L334.50,64.15 L335.00,63.35 L335.50,62.54 L336.00,61.73 L336.50,60.90 L337.00,60.07 L337.50,59.23 L338.00,58.38 L338.50,57.53 L339.00,56.67 L339.50,55.80 L340.00,54.93 L340.50,54.05 L341.00,53.17 L341.50,52.29 L342.00,51.40 L342.50,50.51 L343.00,49.61 L343.50,48.72 L344.00,47.82 L344.50,46.92 L345.00,46.02 L345.50,45.12 L346.00,44.22 L346.50,43.32 L347.00,42.43 L347.50,41.54 L348.00,40.65 L348.50,39.77 L349.00,38.90 L349.50,38.04 L350.00,37.19 L350.50,36.35 L351.00,35.53 L351.50,34.72 L352.00,33.93 L352.50,33.16 L353.00,32.40 L353.50,31.67 L354.00,30.96 L354.50,30.27 L355.00,29.61 L355.50,28.97 L356.00,28.36 L356.50,27.78 L357.00,27.23 L357.50,26.71 L358.00,26.22 L358.50,25.77 L359.00,25.35 L359.50,24.97 L360.00,24.62 L360.50,24.30 L361.00,24.01 L361.50,23.76 L362.00,23.54 L362.50,23.35 L363.00,23.19 L363.50,23.06 L364.00,22.96 L364.50,22.89 L365.00,22.85 L365.50,22.83 L366.00,22.85 L366.50,22.89 L367.00,22.96 L367.50,23.05 L368.00,23.17 L368.50,23.31 L369.00,23.48 L369.50,23.68 L370.00,23.89 L370.50,24.13 L371.00,24.39 L371.50,24.68 L372.00,24.98 L372.50,25.31 L373.00,25.66 L373.50,26.03 L374.00,26.42 L374.50,26.82 L375.00,27.25 L375.50,27.69 L376.00,28.15 L376.50,28.63 L377.00,29.13 L377.50,29.64 L378.00,30.16 L378.50,30.71 L379.00,31.26 L379.50,31.83 L380.00,32.41 L380.50,33.01 L381.00,33.62 L381.50,34.24 L382.00,34.87 L382.50,35.51 L383.00,36.16 L383.50,36.82 L384.00,37.49 L384.50,38.17 L385.00,38.86 L385.50,39.56 L386.00,40.26 L386.50,40.97 L387.00,41.68 L387.50,42.40 L388.00,43.13 L388.50,43.86 L389.00,44.59 L389.50,45.33 L390.00,46.07 L390.50,46.81 L391.00,47.56 L391.50,48.30 L392.00,49.05 L392.50,49.80 L393.00,50.54 L393.50,51.29 L394.00,52.03 L394.50,52.78 L395.00,53.52 L395.50,54.25 L396.00,54.99 L396.50,55.72 L397.00,56.44 L397.50,57.16 L398.00,57.88 L398.50,58.59 L399.00,59.29 L399.50,59.99 L400.00,60.67 L400.50,61.35 L401.00,62.03 L401.50,62.69 L402.00,63.35 L402.50,64.00 L403.00,64.65 L403.50,65.29 L404.00,65.92 L404.50,66.56 L405.00,67.19 L405.50,67.81 L406.00,68.44 L406.50,69.06 L407.00,69.69 L407.50,70.31 L408.00,70.93 L408.50,71.56 L409.00,72.18 L409.50,72.81 L410.00,73.44 L410.50,74.08 L411.00,74.71 L411.50,75.36 L412.00,76.01 L412.50,76.66 L413.00,77.32 L413.50,77.99 L414.00,78.66 L414.50,79.35 L415.00,80.04 L415.50,80.74 L416.00,81.46 L416.50,82.18 L417.00,82.91 L417.50,83.66 L418.00,84.42 L418.50,85.19 L419.00,85.97 L419.50,86.77 L420.00,87.57 L420.50,88.39 L421.00,89.22 L421.50,90.06 L422.00,90.92 L422.50,91.78 L423.00,92.65 L423.50,93.54 L424.00,94.43 L424.50,95.33 L425.00,96.24 L425.50,97.16 L426.00,98.09 L426.50,99.03 L427.00,99.98 L427.50,100.94 L428.00,101.90 L428.50,102.87 L429.00,103.85 L429.50,104.84 L430.00,105.83 L430.50,106.83 L431.00,107.83 L431.50,108.85 L432.00,109.86 L432.50,110.89 L433.00,111.92 L433.50,112.95 L434.00,113.99 L434.50,115.04 L435.00,116.09 L435.50,117.14 L436.00,118.20 L436.50,119.27 L437.00,120.34 L437.50,121.41 L438.00,122.48 L438.50,123.56 L439.00,124.64 L439.50,125.73 L440.00,126.81 L440.50,127.90 L441.00,128.99 L441.50,130.09 L442.00,131.18 L442.50,132.28 L443.00,133.38 L443.50,134.48 L444.00,135.58 L444.50,136.69 L445.00,137.79 L445.50,138.89 L446.00,140.00 L446.50,141.10 L447.00,142.20 L447.50,143.31 L448.00,144.41 L448.50,145.51 L449.00,146.61 L449.50,147.71 L450.00,148.81 L450.50,149.91 L451.00,151.00 L451.50,152.09 L452.00,153.18 L452.50,154.27 L453.00,155.36 L453.50,156.44 L454.00,157.52 L454.50,158.59 L455.00,159.67 L455.50,160.73 L456.00,161.80 L456.50,162.86 L457.00,163.92 L457.50,164.97 L458.00,166.03 L458.50,167.08 L459.00,168.12 L459.50,169.17 L460.00,170.21 L460.50,171.25 L461.00,172.29 L461.50,173.33 L462.00,174.37 L462.50,175.40 L463.00,176.44 L463.50,177.47 L464.00,178.51 L464.50,179.54 L465.00,180.58 L465.50,181.61 L466.00,182.65 L466.50,183.69 L467.00,184.73 L467.50,185.76 L468.00,186.80 L468.50,187.84 L469.00,188.87 L469.50,189.90 L470.00,190.93 L470.50,191.95 L471.00,192.98 L471.50,193.99 L472.00,195.00 L472.50,196.01 L473.00,197.01 L473.50,198.00 L474.00,198.99 L474.50,199.97 L475.00,200.94 L475.50,201.91 L476.00,202.87 L476.50,203.82 L477.00,204.77 L477.50,205.71 L478.00,206.64 L478.50,207.57 L479.00,208.49 L479.50,209.40 L480.00,210.30 L480.50,211.20 L481.00,212.09 L481.50,212.97 L482.00,213.85 L482.50,214.72 L483.00,215.58 L483.50,216.43 L484.00,217.28 L484.50,218.12 L485.00,218.95 L485.50,219.77 L486.00,220.58 L486.50,221.39 L487.00,222.19 L487.50,222.98 L488.00,223.76 L488.50,224.53 L489.00,225.30 L489.50,226.06 L490.00,226.81 L490.50,227.55 L491.00,228.28 L491.50,229.00 L492.00,229.72 L492.50,230.42 L493.00,231.12 L493.50,231.81 L494.00,232.49 L494.50,233.16 L495.00,233.82 L495.50,234.48 L496.00,235.12 L496.50,235.75 L497.00,236.38 L497.50,237.00 L498.00,237.60 L498.50,238.20 L499.00,238.79 L499.50,239.36 L500.00,239.93 L500.50,240.49 L501.00,241.05 L501.50,241.59 L502.00,242.12 L502.50,242.64 L503.00,243.16 L503.50,243.67 L504.00,244.16 L504.50,244.65 L505.00,245.13 L505.50,245.61 L506.00,246.07 L506.50,246.53 L507.00,246.97 L507.50,247.41 L508.00,247.84 L508.50,248.27 L509.00,248.68 L509.50,249.09 L510.00,249.49 L510.50,249.88 L511.00,250.27 L511.50,250.64 L512.00,251.01 L512.50,251.38 L513.00,251.73 L513.50,252.08 L514.00,252.42 L514.50,252.75 L515.00,253.08 L515.50,253.40 L516.00,253.71 L516.50,254.01 L517.00,254.31 L517.50,254.60 L518.00,254.89 L518.50,255.17 L519.00,255.44 L519.50,255.70 L520.00,255.96 L520.50,256.22 L521.00,256.46 L521.50,256.70 L522.00,256.94 L522.50,257.17 L523.00,257.39 L523.50,257.61 L524.00,257.82 L524.50,258.02 L525.00,258.22 L525.50,258.42 L526.00,258.61 L526.50,258.79 L527.00,258.97 L527.50,259.14 L528.00,259.31 L528.50,259.47 L529.00,259.63 L529.50,259.78 L530.00,259.93 L530.50,260.07 L531.00,260.21 L531.50,260.35 L532.00,260.48 L532.50,260.60" stroke="#2ca02c"/>
<path d="M84.50,266.03 L85.00,265.89 L85.50,265.75 L86.00,265.62 L86.50,265.49 L87.00,265.36 L87.50,265.23 L88.00,265.11 L88.50,264.99 L89.00,264.87 L89.50,264.75 L90.00,264.63 L90.50,264.52 L91.00,264.41 L91.50,264.30 L92.00,264.19 L92.50,264.08 L93.00,263.98 L93.50,263.88 L94.00,263.77 L94.50,263.67 L95.00,263.57 L95.50,263.47 L96.00,263.38 L96.50,263.28 L97.00,263.18 L97.50,263.09 L98.00,263.00 L98.50,262.90 L99.00,262.81 L99.50,262.72 L100.00,262.63 L100.50,262.53 L101.00,262.44 L101.50,262.35 L102.00,262.26 L102.50,262.17 L103.00,262.08 L103.50,261.99 L104.00,261.90 L104.50,261.81 L105.00,261.72 L105.50,261.62 L106.00,261.53 L106.50,261.44 L107.00,261.34 L107.50,261.25 L108.00,261.16 L108.50,261.06 L109.00,260.96 L109.50,260.86 L110.00,260.77 L110.50,260.67 L111.00,260.56 L111.50,260.46 L112.00,260.36 L112.50,260.25 L113.00,260.14 L113.50,260.03 L114.00,259.92 L114.50,259.81 L115.00,259.70 L115.50,259.58 L116.00,259.46 L116.50,259.34 L117.00,259.22 L117.50,259.09 L118.00,258.97 L118.50,258.84 L119.00,258.70 L119.50,258.57 L120.00,258.43 L120.50,258.29 L121.00,258.15 L121.50,258.00 L122.00,257.85 L122.50,257.70 L123.00,257.55 L123.50,257.39 L124.00,257.23 L124.50,257.06 L125.00,256.89 L125.50,256.72 L126.00,256.55 L126.50,256.37 L127.00,256.18 L127.50,256.00 L128.00,255.81 L128.50,255.61 L129.00,255.41 L129.50,255.21 L130.00,255.00 L130.50,254.79 L131.00,254.58 L131.50,254.36 L132.00,254.14 L132.50,253.92 L133.00,253.69 L133.50,253.46 L134.00,253.22 L134.50,252.99 L135.00,252.75 L135.50,252.51 L136.00,252.27 L136.50,252.02 L137.00,251.78 L137.50,251.53 L138.00,251.28 L138.50,251.03 L139.00,250.78 L139.50,250.52 L140.00,250.27 L140.50,250.01 L141.00,249.76 L141.50,249.50 L142.00,249.25 L142.50,248.99 L143.00,248.73 L143.50,248.48 L144.00,248.22 L144.50,247.97 L145.00,247.71 L145.50,247.46 L146.00,247.21 L146.50,246.95 L147.00,246.70 L147.50,246.45 L148.00,246.21 L148.50,245.96 L149.00,245.72 L149.50,245.48 L150.00,245.24 L150.50,245.00 L151.00,244.76 L151.50,244.53 L152.00,244.30 L152.50,244.07 L153.00,243.85 L153.50,243.62 L154.00,243.40 L154.50,243.18 L155.00,242.97 L155.50,242.75 L156.00,242.54 L156.50,242.32 L157.00,242.12 L157.50,241.91 L158.00,241.70 L158.50,241.50 L159.00,241.30 L159.50,241.09 L160.00,240.90 L160.50,240.70 L161.00,240.50 L161.50,240.31 L162.00,240.12 L162.50,239.93 L163.00,239.74 L163.50,239.55 L164.00,239.36 L164.50,239.18 L165.00,238.99 L165.50,238.81 L166.00,238.63 L166.50,238.45 L167.00,238.27 L167.50,238.09 L168.00,237.92 L168.50,237.74 L169.00,237.57 L169.50,237.39 L170.00,237.22 L170.50,237.05 L171.00,236.88 L171.50,236.71 L172.00,236.54 L172.50,236.38 L173.00,236.21 L173.50,236.04 L174.00,235.88 L174.50,235.71 L175.00,235.55 L175.50,235.39 L176.00,235.22 L176.50,235.06 L177.00,234.90 L177.50,234.74 L178.00,234.58 L178.50,234.42 L179.00,234.26 L179.50,234.10 L180.00,233.94 L180.50,233.78 L181.00,233.62 L181.50,233.46 L182.00,233.31 L182.50,233.15 L183.00,232.99 L183.50,232.83 L184.00,232.67 L184.50,232.52 L185.00,232.36 L185.50,232.20 L186.00,232.04 L186.50,231.89 L187.00,231.73 L187.50,231.57 L188.00,231.41 L188.50,231.25 L189.00,231.09 L189.50,230.93 L190.00,230.77 L190.50,230.61 L191.00,230.45 L191.50,230.29 L192.00,230.13 L192.50,229.97 L193.00,229.80 L193.50,229.64 L194.00,229.47 L194.50,229.30 L195.00,229.13 L195.50,228.96 L196.00,228.79 L196.50,228.61 L197.00,228.44 L197.50,228.26 L198.00,228.08 L198.50,227.90 L199.00,227.71 L199.50,227.53 L200.00,227.34 L200.50,227.15 L201.00,226.95 L201.50,226.76 L202.00,226.56 L202.50,226.36 L203.00,226.15 L203.50,225.94 L204.00,225.73 L204.50,225.52 L205.00,225.30 L205.50,225.08 L206.00,224.85 L206.50,224.63 L207.00,224.39 L207.50,224.16 L208.00,223.92 L208.50,223.68 L209.00,223.43 L209.50,223.18 L210.00,222.92 L210.50,222.66 L211.00,222.39 L211.50,222.12 L212.00,221.85 L212.50,221.57 L213.00,221.28 L213.50,221.00 L214.00,220.70 L214.50,220.40 L215.00,220.10 L215.50,219.79 L216.00,219.48 L216.50,219.16 L217.00,218.84 L217.50,218.52 L218.00,218.19 L218.50,217.85 L219.00,217.52 L219.50,217.18 L220.00,216.83 L220.50,216.49 L221.00,216.13 L221.50,215.78 L222.00,215.42 L222.50,215.06 L223.00,214.70 L223.50,214.34 L224.00,213.97 L224.50,213.60 L225.00,213.22 L225.50,212.85 L226.00,212.47 L226.50,212.09 L227.00,211.71 L227.50,211.32 L228.00,210.94 L228.50,210.55 L229.00,210.16 L229.50,209.77 L230.00,209.38 L230.50,208.99 L231.00,208.59 L231.50,208.20 L232.00,207.80 L232.50,207.40 L233.00,207.01 L233.50,206.61 L234.00,206.21 L234.50,205.81 L235.00,205.41 L235.50,205.01 L236.00,204.62 L236.50,204.22 L237.00,203.82 L237.50,203.42 L238.00,203.02 L238.50,202.62 L239.00,202.22 L239.50,201.82 L240.00,201.43 L240.50,201.03 L241.00,200.63 L241.50,200.23 L242.00,199.83 L242.50,199.44 L243.00,199.04 L243.50,198.64 L244.00,198.25 L244.50,197.85 L245.00,197.45 L245.50,197.06 L246.00,196.66 L246.50,196.27 L247.00,195.87 L247.50,195.48 L248.00,195.08 L248.50,194.69 L249.00,194.30 L249.50,193.90 L250.00,193.51 L250.50,193.12 L251.00,192.72 L251.50,192.33 L252.00,191.94 L252.50,191.55 L253.00,191.16 L253.50,190.77 L254.00,190.38 L254.50,189.99 L255.00,189.61 L255.50,189.22 L256.00,188.83 L256.50,188.44 L257.00,188.06 L257.50,187.67 L258.00,187.29 L258.50,186.90 L259.00,186.52 L259.50,186.14 L260.00,185.76 L260.50,185.37 L261.00,184.99 L261.50,184.61 L262.00,184.23 L262.50,183.85 L263.00,183.48 L263.50,183.10 L264.00,182.72 L264.50,182.35 L265.00,181.97 L265.50,181.60 L266.00,181.22 L266.50,180.85 L267.00,180.48 L267.50,180.11 L268.00,179.73 L268.50,179.36 L269.00,178.99 L269.50,178.62 L270.00,178.25 L270.50,177.87 L271.00,177.50 L271.50,177.12 L272.00,176.74 L272.50,176.36 L273.00,175.98 L273.50,175.60 L274.00,175.21 L274.50,174.82 L275.00,174.42 L275.50,174.03 L276.00,173.63 L276.50,173.22 L277.00,172.81 L277.50,172.40 L278.00,171.98 L278.50,171.55 L279.00,171.12 L279.50,170.69 L280.00,170.25 L280.50,169.80 L281.00,169.35 L281.50,168.89 L282.00,168.43 L282.50,167.97 L283.00,167.49 L283.50,167.02 L284.00,166.54 L284.50,166.05 L285.00,165.56 L285.50,165.07 L286.00,164.57 L286.50,164.06 L287.00,163.56 L287.50,163.04 L288.00,162.53 L288.50,162.01 L289.00,161.49 L289.50,160.96 L290.00,160.44 L290.50,159.91 L291.00,159.38 L291.50,158.84 L292.00,158.30 L292.50,157.77 L293.00,157.23 L293.50,156.69 L294.00,156.15 L294.50,155.60 L295.00,155.06 L295.50,154.52 L296.00,153.97 L296.50,153.43 L297.00,152.88 L297.50,152.34 L298.00,151.79 L298.50,151.25 L299.00,150.70 L299.50,150.15 L300.00,149.60 L300.50,149.06 L301.00,148.51 L301.50,147.96 L302.00,147.41 L302.50,146.86 L303.00,146.31 L303.50,145.76 L304.00,145.21 L304.50,144.66 L305.00,144.11 L305.50,143.55 L306.00,143.00 L306.50,142.45 L307.00,141.89 L307.50,141.34 L308.00,140.79 L308.50,140.23 L309.00,139.67 L309.50,139.12 L310.00,138.56 L310.50,138.00 L311.00,137.45 L311.50,136.89 L312.00,136.33 L312.50,135.77 L313.00,135.21 L313.50,134.65 L314.00,134.09 L314.50,133.53 L315.00,132.97 L315.50,132.40 L316.00,131.83 L316.50,131.26 L317.00,130.69 L317.50,130.11 L318.00,129.53 L318.50,128.95 L319.00,128.36 L319.50,127.76 L320.00,127.16 L320.50,126.56 L321.00,125.95 L321.50,125.33 L322.00,124.71 L322.50,124.07 L323.00,123.44 L323.50,122.79 L324.00,122.13 L324.50,121.47 L325.00,120.80 L325.50,120.12 L326.00,119.43 L326.50,118.73 L327.00,118.01 L327.50,117.29 L328.00,116.56 L328.50,115.82 L329.00,115.06 L329.50,114.30 L330.00,113.53 L330.50,112.75 L331.00,111.96 L331.50,111.16 L332.00,110.36 L332.50,109.54 L333.00,108.72 L333.50,107.90 L334.00,107.07 L334.50,106.23 L335.00,105.39 L335.50,104.54 L336.00,103.69 L336.50,102.83 L337.00,101.97 L337.50,101.10 L338.00,100.24 L338.50,99.37 L339.00,98.49 L339.50,97.62 L340.00,96.74 L340.50,95.87 L341.00,94.99 L341.50,94.11 L342.00,93.24 L342.50,92.36 L343.00,91.49 L343.50,90.62 L344.00,89.75 L344.50,88.89 L345.00,88.03 L345.50,87.17 L346.00,86.32 L346.50,85.48 L347.00,84.64 L347.50,83.81 L348.00,82.98 L348.50,82.17 L349.00,81.36 L349.50,80.56 L350.00,79.78 L350.50,79.00 L351.00,78.23 L351.50,77.47 L352.00,76.73 L352.50,76.00 L353.00,75.28 L353.50,74.57 L354.00,73.88 L354.50,73.20 L355.00,72.53 L355.50,71.88 L356.00,71.25 L356.50,70.63 L357.00,70.03 L357.50,69.45 L358.00,68.88 L358.50,68.34 L359.00,67.81 L359.50,67.30 L360.00,66.80 L360.50,66.33 L361.00,65.87 L361.50,65.43 L362.00,65.01 L362.50,64.60 L363.00,64.20 L363.50,63.83 L364.00,63.46 L364.50,63.12 L365.00,62.78 L365.50,62.46 L366.00,62.15 L366.50,61.86 L367.00,61.58 L367.50,61.31 L368.00,61.05 L368.50,60.80 L369.00,60.57 L369.50,60.34 L370.00,60.13 L370.50,59.92 L371.00,59.73 L371.50,59.54 L372.00,59.36 L372.50,59.19 L373.00,59.03 L373.50,58.87 L374.00,58.73 L374.50,58.58 L375.00,58.45 L375.50,58.32 L376.00,58.19 L376.50,58.08 L377.00,57.96 L377.50,57.85 L378.00,57.74 L378.50,57.64 L379.00,57.54 L379.50,57.44 L380.00,57.35 L380.50,57.25 L381.00,57.16 L381.50,57.07 L382.00,56.98 L382.50,56.89 L383.00,56.80 L383.50,56.71 L384.00,56.62 L384.50,56.53 L385.00,56.43 L385.50,56.34 L386.00,56.24 L386.50,56.14 L387.00,56.04 L387.50,55.93 L388.00,55.83 L388.50,55.73 L389.00,55.62 L389.50,55.52 L390.00,55.41 L390.50,55.31 L391.00,55.20 L391.50,55.10 L392.00,55.00 L392.50,54.90 L393.00,54.80 L393.50,54.71 L394.00,54.61 L394.50,54.52 L395.00,54.43 L395.50,54.35 L396.00,54.26 L396.50,54.18 L397.00,54.11 L397.50,54.04 L398.00,53.97 L398.50,53.91 L399.00,53.85 L399.50,53.80 L400.00,53.75 L400.50,53.71 L401.00,53.68 L401.50,53.65 L402.00,53.62 L402.50,53.61 L403.00,53.60 L403.50,53.60 L404.00,53.60 L404.50,53.62 L405.00,53.64 L405.50,53.67 L406.00,53.71 L406.50,53.75 L407.00,53.81 L407.50,53.88 L408.00,53.96 L408.50,54.05 L409.00,54.15 L409.50,54.26 L410.00,54.38 L410.50,54.51 L411.00,54.66 L411.50,54.82 L412.00,55.00 L412.50,55.19 L413.00,55.39 L413.50,55.60 L414.00,55.84 L414.50,56.08 L415.00,56.35 L415.50,56.62 L416.00,56.92 L416.50,57.23 L417.00,57.56 L417.50,57.90 L418.00,58.27 L418.50,58.65 L419.00,59.05 L419.50,59.47 L420.00,59.91 L420.50,60.37 L421.00,60.85 L421.50,61.35 L422.00,61.86 L422.50,62.40 L423.00,62.95 L423.50,63.51 L424.00,64.10 L424.50,64.70 L425.00,65.31 L425.50,65.93 L426.00,66.57 L426.50,67.22 L427.00,67.88 L427.50,68.56 L428.00,69.24 L428.50,69.93 L429.00,70.63 L429.50,71.34 L430.00,72.06 L430.50,72.78 L431.00,73.51 L431.50,74.24 L432.00,74.98 L432.50,75.72 L433.00,76.46 L433.50,77.21 L434.00,77.97 L434.50,78.72 L435.00,79.49 L435.50,80.26 L436.00,81.03 L436.50,81.80 L437.00,82.59 L437.50,83.37 L438.00,84.16 L438.50,84.96 L439.00,85.76 L439.50,86.56 L440.00,87.37 L440.50,88.19 L441.00,89.01 L441.50,89.84 L442.00,90.67 L442.50,91.50 L443.00,92.35 L443.50,93.19 L444.00,94.04 L444.50,94.90 L445.00,95.77 L445.50,96.63 L446.00,97.51 L446.50,98.39 L447.00,99.27 L447.50,100.16 L448.00,101.06 L448.50,101.96 L449.00,102.87 L449.50,103.78 L450.00,104.69 L450.50,105.62 L451.00,106.54 L451.50,107.47 L452.00,108.41 L452.50,109.34 L453.00,110.29 L453.50,111.23 L454.00,112.19 L454.50,113.14 L455.00,114.10 L455.50,115.06 L456.00,116.03 L456.50,117.00 L457.00,117.97 L457.50,118.95 L458.00,119.93 L458.50,120.91 L459.00,121.90 L459.50,122.89 L460.00,123.88 L460.50,124.88 L461.00,125.88 L461.50,126.88 L462.00,127.88 L462.50,128.88 L463.00,129.89 L463.50,130.90 L464.00,131.91 L464.50,132.93 L465.00,133.94 L465.50,134.96 L466.00,135.98 L466.50,137.00 L467.00,138.02 L467.50,139.05 L468.00,140.07 L468.50,141.10 L469.00,142.13 L469.50,143.16 L470.00,144.19 L470.50,145.22 L471.00,146.25 L471.50,147.28 L472.00,148.31 L472.50,149.34 L473.00,150.38 L473.50,151.41 L474.00,152.44 L474.50,153.48 L475.00,154.51 L475.50,155.54 L476.00,156.58 L476.50,157.61 L477.00,158.64 L477.50,159.67 L478.00,160.70 L478.50,161.73 L479.00,162.76 L479.50,163.79 L480.00,164.82 L480.50,165.84 L481.00,166.87 L481.50,167.89 L482.00,168.91 L482.50,169.93 L483.00,170.95 L483.50,171.97 L484.00,172.99 L484.50,174.00 L485.00,175.01 L485.50,176.02 L486.00,177.03 L486.50,178.03 L487.00,179.03 L487.50,180.03 L488.00,181.03 L488.50,182.02 L489.00,183.02 L489.50,184.00 L490.00,184.99 L490.50,185.97 L491.00,186.95 L491.50,187.93 L492.00,188.90 L492.50,189.87 L493.00,190.84 L493.50,191.80 L494.00,192.75 L494.50,193.71 L495.00,194.66 L495.50,195.60 L496.00,196.55 L496.50,197.48 L497.00,198.42 L497.50,199.35 L498.00,200.27 L498.50,201.19 L499.00,202.10 L499.50,203.01 L500.00,203.92 L500.50,204.81 L501.00,205.71 L501.50,206.59 L502.00,207.47 L502.50,208.35 L503.00,209.22 L503.50,210.08 L504.00,210.93 L504.50,211.78 L505.00,212.62 L505.50,213.46 L506.00,214.29 L506.50,215.11 L507.00,215.92 L507.50,216.72 L508.00,217.52 L508.50,218.31 L509.00,219.09 L509.50,219.86 L510.00,220.62 L510.50,221.38 L511.00,222.12 L511.50,222.86 L512.00,223.59 L512.50,224.30 L513.00,225.01 L513.50,225.71 L514.00,226.40 L514.50,227.08 L515.00,227.75 L515.50,228.41 L516.00,229.05 L516.50,229.69 L517.00,230.32 L517.50,230.93 L518.00,231.54 L518.50,232.13 L519.00,232.71 L519.50,233.28 L520.00,233.84 L520.50,234.38 L521.00,234.92 L521.50,235.44 L522.00,235.95 L522.50,236.44 L523.00,236.92 L523.50,237.39 L524.00,237.85 L524.50,238.30 L525.00,238.73 L525.50,239.14 L526.00,239.55 L526.50,239.93 L527.00,240.31 L527.50,240.67 L528.00,241.02 L528.50,241.35 L529.00,241.66 L529.50,241.97 L530.00,242.25 L530.50,242.52 L531.00,242.78 L531.50,243.02 L532.00,243.24 L532.50,243.45" stroke="#d62728"/>
<path d="M84.00,260.16 L84.50,260.06 L85.00,259.96 L85.50,259.85 L86.00,259.74 L86.50,259.64 L87.00,259.52 L87.50,259.41 L88.00,259.30 L88.50,259.18 L89.00,259.06 L89.50,258.94 L90.00,258.82 L90.50,258.70 L91.00,258.57 L91.50,258.44 L92.00,258.32 L92.50,258.19 L93.00,258.05 L93.50,257.92 L94.00,257.79 L94.50,257.65 L95.00,257.51 L95.50,257.37 L96.00,257.23 L96.50,257.09 L97.00,256.95 L97.50,256.80 L98.00,256.66 L98.50,256.51 L99.00,256.36 L99.50,256.21 L100.00,256.06 L100.50,255.91 L101.00,255.75 L101.50,255.60 L102.00,255.44 L102.50,255.28 L103.00,255.12 L103.50,254.97 L104.00,254.80 L104.50,254.64 L105.00,254.48 L105.50,254.32 L106.00,254.15 L106.50,253.99 L107.00,253.82 L107.50,253.65 L108.00,253.49 L108.50,253.32 L109.00,253.15 L109.50,252.98 L110.00,252.81 L110.50,252.64 L111.00,252.47 L111.50,252.30 L112.00,252.13 L112.50,251.95 L113.00,251.78 L113.50,251.61 L114.00,251.44 L114.50,251.27 L115.00,251.09 L115.50,250.92 L116.00,250.75 L116.50,250.58 L117.00,250.40 L117.50,250.23 L118.00,250.06 L118.50,249.89 L119.00,249.72 L119.50,249.55 L120.00,249.38 L120.50,249.21 L121.00,249.04 L121.50,248.87 L122.00,248.70 L122.50,248.54 L123.00,248.37 L123.50,248.20 L124.00,248.04 L124.50,247.87 L125.00,247.71 L125.50,247.55 L126.00,247.39 L126.50,247.23 L127.00,247.07 L127.50,246.91 L128.00,246.76 L128.50,246.60 L129.00,246.45 L129.50,246.29 L130.00,246.14 L130.50,245.99 L131.00,245.84 L131.50,245.70 L132.00,245.55 L132.50,245.40 L133.00,245.26 L133.50,245.11 L134.00,244.96 L134.50,244.82 L135.00,244.67 L135.50,244.53 L136.00,244.38 L136.50,244.24 L137.00,244.09 L137.50,243.95 L138.00,243.80 L138.50,243.65 L139.00,243.51 L139.50,243.36 L140.00,243.21 L140.50,243.06 L141.00,242.90 L141.50,242.75 L142.00,242.60 L142.50,242.44 L143.00,242.28 L143.50,242.12 L144.00,241.96 L144.50,241.80 L145.00,241.63 L145.50,241.46 L146.00,241.29 L146.50,241.12 L147.00,240.94 L147.50,240.77 L148.00,240.58 L148.50,240.40 L149.00,240.21 L149.50,240.02 L150.00,239.83 L150.50,239.63 L151.00,239.43 L151.50,239.23 L152.00,239.02 L152.50,238.81 L153.00,238.60 L153.50,238.38 L154.00,238.16 L154.50,237.93 L155.00,237.70 L155.50,237.46 L156.00,237.22 L156.50,236.97 L157.00,236.72 L157.50,236.47 L158.00,236.21 L158.50,235.94 L159.00,235.67 L159.50,235.40 L160.00,235.11 L160.50,234.83 L161.00,234.53 L161.50,234.24 L162.00,233.93 L162.50,233.62 L163.00,233.30 L163.50,232.98 L164.00,232.65 L164.50,232.32 L165.00,231.97 L165.50,231.62 L166.00,231.27 L166.50,230.91 L167.00,230.54 L167.50,230.16 L168.00,229.78 L168.50,229.40 L169.00,229.01 L169.50,228.61 L170.00,228.21 L170.50,227.80 L171.00,227.39 L171.50,226.98 L172.00,226.56 L172.50,226.14 L173.00,225.72 L173.50,225.29 L174.00,224.86 L174.50,224.43 L175.00,223.99 L175.50,223.55 L176.00,223.11 L176.50,222.67 L177.00,222.23 L177.50,221.79 L178.00,221.34 L178.50,220.90 L179.00,220.45 L179.50,220.00 L180.00,219.56 L180.50,219.11 L181.00,218.67 L181.50,218.22 L182.00,217.78 L182.50,217.34 L183.00,216.90 L183.50,216.46 L184.00,216.02 L184.50,215.58 L185.00,215.15 L185.50,214.72 L186.00,214.29 L186.50,213.87 L187.00,213.45 L187.50,213.03 L188.00,212.62 L188.50,212.21 L189.00,211.80 L189.50,211.40 L190.00,211.01 L190.50,210.62 L191.00,210.23 L191.50,209.85 L192.00,209.48 L192.50,209.11 L193.00,208.75 L193.50,208.40 L194.00,208.05 L194.50,207.71 L195.00,207.38 L195.50,207.05 L196.00,206.73 L196.50,206.42 L197.00,206.12 L197.50,205.83 L198.00,205.55 L198.50,205.27 L199.00,205.00 L199.50,204.74 L200.00,204.49 L200.50,204.25 L201.00,204.01 L201.50,203.77 L202.00,203.55 L202.50,203.32 L203.00,203.11 L203.50,202.89 L204.00,202.68 L204.50,202.47 L205.00,202.27 L205.50,202.07 L206.00,201.87 L206.50,201.67 L207.00,201.47 L207.50,201.27 L208.00,201.07 L208.50,200.87 L209.00,200.67 L209.50,200.47 L210.00,200.27 L210.50,200.06 L211.00,199.86 L211.50,199.65 L212.00,199.44 L212.50,199.22 L213.00,199.00 L213.50,198.78 L214.00,198.55 L214.50,198.32 L215.00,198.08 L215.50,197.83 L216.00,197.59 L216.50,197.33 L217.00,197.07 L217.50,196.80 L218.00,196.52 L218.50,196.24 L219.00,195.94 L219.50,195.64 L220.00,195.34 L220.50,195.02 L221.00,194.70 L221.50,194.37 L222.00,194.04 L222.50,193.69 L223.00,193.35 L223.50,192.99 L224.00,192.63 L224.50,192.26 L225.00,191.89 L225.50,191.51 L226.00,191.13 L226.50,190.74 L227.00,190.34 L227.50,189.94 L228.00,189.53 L228.50,189.12 L229.00,188.71 L229.50,188.29 L230.00,187.86 L230.50,187.43 L231.00,187.00 L231.50,186.56 L232.00,186.12 L232.50,185.67 L233.00,185.22 L233.50,184.77 L234.00,184.31 L234.50,183.85 L235.00,183.39 L235.50,182.92 L236.00,182.46 L236.50,181.98 L237.00,181.51 L237.50,181.03 L238.00,180.55 L238.50,180.07 L239.00,179.59 L239.50,179.11 L240.00,178.62 L240.50,178.13 L241.00,177.64 L241.50,177.15 L242.00,176.66 L242.50,176.17 L243.00,175.67 L243.50,175.18 L244.00,174.68 L244.50,174.19 L245.00,173.69 L245.50,173.19 L246.00,172.70 L246.50,172.20 L247.00,171.70 L247.50,171.21 L248.00,170.71 L248.50,170.22 L249.00,169.73 L249.50,169.23 L250.00,168.74 L250.50,168.25 L251.00,167.76 L251.50,167.27 L252.00,166.79 L252.50,166.30 L253.00,165.82 L253.50,165.34 L254.00,164.86 L254.50,164.39 L255.00,163.92 L255.50,163.44 L256.00,162.98 L256.50,162.51 L257.00,162.04 L257.50,161.58 L258.00,161.12 L258.50,160.66 L259.00,160.20 L259.50,159.75 L260.00,159.29 L260.50,158.84 L261.00,158.39 L261.50,157.94 L262.00,157.49 L262.50,157.04 L263.00,156.59 L263.50,156.15 L264.00,155.71 L264.50,155.26 L265.00,154.82 L265.50,154.38 L266.00,153.94 L266.50,153.50 L267.00,153.06 L267.50,152.63 L268.00,152.19 L268.50,151.75 L269.00,151.32 L269.50,150.88 L270.00,150.45 L270.50,150.01 L271.00,149.58 L271.50,149.14 L272.00,148.71 L272.50,148.28 L273.00,147.84 L273.50,147.41 L274.00,146.98 L274.50,146.54 L275.00,146.11 L275.50,145.67 L276.00,145.24 L276.50,144.80 L277.00,144.37 L277.50,143.93 L278.00,143.49 L278.50,143.06 L279.00,142.62 L279.50,142.18 L280.00,141.74 L280.50,141.30 L281.00,140.86 L281.50,140.42 L282.00,139.97 L282.50,139.53 L283.00,139.08 L283.50,138.64 L284.00,138.19 L284.50,137.74 L285.00,137.29 L285.50,136.84 L286.00,136.38 L286.50,135.93 L287.00,135.47 L287.50,135.01 L288.00,134.55 L288.50,134.09 L289.00,133.62 L289.50,133.16 L290.00,132.69 L290.50,132.22 L291.00,131.75 L291.50,131.27 L292.00,130.79 L292.50,130.31 L293.00,129.83 L293.50,129.35 L294.00,128.86 L294.50,128.37 L295.00,127.88 L295.50,127.39 L296.00,126.89 L296.50,126.39 L297.00,125.89 L297.50,125.38 L298.00,124.87 L298.50,124.36 L299.00,123.85 L299.50,123.33 L300.00,122.81 L300.50,122.28 L301.00,121.75 L301.50,121.22 L302.00,120.69 L302.50,120.15 L303.00,119.61 L303.50,119.06 L304.00,118.51 L304.50,117.96 L305.00,117.40 L305.50,116.84 L306.00,116.28 L306.50,115.71 L307.00,115.14 L307.50,114.57 L308.00,113.99 L308.50,113.41 L309.00,112.82 L309.50,112.23 L310.00,111.63 L310.50,111.03 L311.00,110.43 L311.50,109.83 L312.00,109.21 L312.50,108.60 L313.00,107.98 L313.50,107.36 L314.00,106.73 L314.50,106.10 L315.00,105.46 L315.50,104.82 L316.00,104.18 L316.50,103.53 L317.00,102.87 L317.50,102.22 L318.00,101.55 L318.50,100.89 L319.00,100.21 L319.50,99.54 L320.00,98.86 L320.50,98.17 L321.00,97.48 L321.50,96.79 L322.00,96.09 L322.50,95.38 L323.00,94.67 L323.50,93.96 L324.00,93.24 L324.50,92.52 L325.00,91.79 L325.50,91.06 L326.00,90.32 L326.50,89.58 L327.00,88.84 L327.50,88.09 L328.00,87.34 L328.50,86.59 L329.00,85.84 L329.50,85.08 L330.00,84.33 L330.50,83.57 L331.00,82.81 L331.50,82.05 L332.00,81.30 L332.50,80.54 L333.00,79.78 L333.50,79.02 L334.00,78.27 L334.50,77.51 L335.00,76.76 L335.50,76.01 L336.00,75.26 L336.50,74.52 L337.00,73.78 L337.50,73.04 L338.00,72.31 L338.50,71.58 L339.00,70.85 L339.50,70.13 L340.00,69.42 L340.50,68.71 L341.00,68.00 L341.50,67.30 L342.00,66.61 L342.50,65.92 L343.00,65.25 L343.50,64.58 L344.00,63.91 L344.50,63.26 L345.00,62.61 L345.50,61.97 L346.00,61.34 L346.50,60.72 L347.00,60.11 L347.50,59.51 L348.00,58.92 L348.50,58.34 L349.00,57.77 L349.50,57.21 L350.00,56.67 L350.50,56.13 L351.00,55.61 L351.50,55.10 L352.00,54.60 L352.50,54.12 L353.00,53.65 L353.50,53.19 L354.00,52.75 L354.50,52.32 L355.00,51.91 L355.50,51.51 L356.00,51.13 L356.50,50.76 L357.00,50.41 L357.50,50.08 L358.00,49.76 L358.50,49.46 L359.00,49.17 L359.50,48.91 L360.00,48.66 L360.50,48.43 L361.00,48.21 L361.50,48.01 L362.00,47.83 L362.50,47.67 L363.00,47.52 L363.50,47.38 L364.00,47.26 L364.50,47.15 L365.00,47.06 L365.50,46.98 L366.00,46.92 L366.50,46.87 L367.00,46.83 L367.50,46.80 L368.00,46.79 L368.50,46.79 L369.00,46.80 L369.50,46.82 L370.00,46.85 L370.50,46.89 L371.00,46.95 L371.50,47.01 L372.00,47.08 L372.50,47.16 L373.00,47.25 L373.50,47.35 L374.00,47.46 L374.50,47.58 L375.00,47.70 L375.50,47.83 L376.00,47.97 L376.50,48.12 L377.00,48.27 L377.50,48.42 L378.00,48.59 L378.50,48.76 L379.00,48.93 L379.50,49.11 L380.00,49.29 L380.50,49.48 L381.00,49.67 L381.50,49.86 L382.00,50.06 L382.50,50.26 L383.00,50.46 L383.50,50.67 L384.00,50.87 L384.50,51.09 L385.00,51.30 L385.50,51.53 L386.00,51.76 L386.50,51.99 L387.00,52.23 L387.50,52.48 L388.00,52.74 L388.50,53.01 L389.00,53.29 L389.50,53.57 L390.00,53.87 L390.50,54.18 L391.00,54.50 L391.50,54.83 L392.00,55.18 L392.50,55.54 L393.00,55.91 L393.50,56.30 L394.00,56.71 L394.50,57.13 L395.00,57.57 L395.50,58.02 L396.00,58.49 L396.50,58.98 L397.00,59.49 L397.50,60.02 L398.00,60.56 L398.50,61.12 L399.00,61.70 L399.50,62.29 L400.00,62.89 L400.50,63.52 L401.00,64.15 L401.50,64.81 L402.00,65.47 L402.50,66.15 L403.00,66.84 L403.50,67.55 L404.00,68.27 L404.50,69.00 L405.00,69.74 L405.50,70.49 L406.00,71.25 L406.50,72.03 L407.00,72.81 L407.50,73.60 L408.00,74.41 L408.50,75.22 L409.00,76.04 L409.50,76.87 L410.00,77.71 L410.50,78.56 L411.00,79.41 L411.50,80.28 L412.00,81.16 L412.50,82.04 L413.00,82.94 L413.50,83.84 L414.00,84.75 L414.50,85.68 L415.00,86.61 L415.50,87.55 L416.00,88.50 L416.50,89.46 L417.00,90.43 L417.50,91.40 L418.00,92.39 L418.50,93.39 L419.00,94.39 L419.50,95.41 L420.00,96.43 L420.50,97.46 L421.00,98.51 L421.50,99.56 L422.00,100.62 L422.50,101.68 L423.00,102.76 L423.50,103.84 L424.00,104.92 L424.50,106.01 L425.00,107.11 L425.50,108.21 L426.00,109.32 L426.50,110.43 L427.00,111.54 L427.50,112.66 L428.00,113.78 L428.50,114.90 L429.00,116.02 L429.50,117.14 L430.00,118.27 L430.50,119.39 L431.00,120.51 L431.50,121.63 L432.00,122.75 L432.50,123.87 L433.00,124.99 L433.50,126.10 L434.00,127.21 L434.50,128.31 L435.00,129.41 L435.50,130.51 L436.00,131.60 L436.50,132.69 L437.00,133.77 L437.50,134.84 L438.00,135.92 L438.50,136.98 L439.00,138.05 L439.50,139.10 L440.00,140.16 L440.50,141.21 L441.00,142.26 L441.50,143.30 L442.00,144.34 L442.50,145.38 L443.00,146.41 L443.50,147.44 L444.00,148.47 L444.50,149.50 L445.00,150.52 L445.50,151.54 L446.00,152.56 L446.50,153.58 L447.00,154.59 L447.50,155.60 L448.00,156.61 L448.50,157.62 L449.00,158.63 L449.50,159.64 L450.00,160.64 L450.50,161.65 L451.00,162.65 L451.50,163.65 L452.00,164.66 L452.50,165.66 L453.00,166.66 L453.50,167.66 L454.00,168.66 L454.50,169.66 L455.00,170.67 L455.50,171.67 L456.00,172.67 L456.50,173.67 L457.00,174.67 L457.50,175.67 L458.00,176.67 L458.50,177.67 L459.00,178.66 L459.50,179.66 L460.00,180.65 L460.50,181.64 L461.00,182.62 L461.50,183.60 L462.00,184.58 L462.50,185.56 L463.00,186.53 L463.50,187.49 L464.00,188.46 L464.50,189.41 L465.00,190.36 L465.50,191.31 L466.00,192.25 L466.50,193.19 L467.00,194.12 L467.50,195.04 L468.00,195.96 L468.50,196.86 L469.00,197.77 L469.50,198.66 L470.00,199.55 L470.50,200.42 L471.00,201.29 L471.50,202.16 L472.00,203.01 L472.50,203.85 L473.00,204.68 L473.50,205.51 L474.00,206.32 L474.50,207.13 L475.00,207.92 L475.50,208.70 L476.00,209.48 L476.50,210.24 L477.00,210.99 L477.50,211.73 L478.00,212.47 L478.50,213.18 L479.00,213.89 L479.50,214.59 L480.00,215.28 L480.50,215.95 L481.00,216.61 L481.50,217.26 L482.00,217.90 L482.50,218.53 L483.00,219.15 L483.50,219.75 L484.00,220.35 L484.50,220.94 L485.00,221.51 L485.50,222.08 L486.00,222.64 L486.50,223.18 L487.00,223.72 L487.50,224.26 L488.00,224.78 L488.50,225.30 L489.00,225.81 L489.50,226.31 L490.00,226.80 L490.50,227.29 L491.00,227.77 L491.50,228.25 L492.00,228.72 L492.50,229.18 L493.00,229.64 L493.50,230.10 L494.00,230.55 L494.50,231.00 L495.00,231.44 L495.50,231.88 L496.00,232.31 L496.50,232.74 L497.00,233.17 L497.50,233.60 L498.00,234.02 L498.50,234.44 L499.00,234.85 L499.50,235.26 L500.00,235.67 L500.50,236.07 L501.00,236.47 L501.50,236.86 L502.00,237.26 L502.50,237.65 L503.00,238.03 L503.50,238.41 L504.00,238.79 L504.50,239.16 L505.00,239.53 L505.50,239.90 L506.00,240.26 L506.50,240.62 L507.00,240.98 L507.50,241.33 L508.00,241.68 L508.50,242.03 L509.00,242.37 L509.50,242.71 L510.00,243.04 L510.50,243.37 L511.00,243.70 L511.50,244.03 L512.00,244.35 L512.50,244.66 L513.00,244.98 L513.50,245.28 L514.00,245.59 L514.50,245.89 L515.00,246.19 L515.50,246.49 L516.00,246.78 L516.50,247.07 L517.00,247.35 L517.50,247.63 L518.00,247.91 L518.50,248.18 L519.00,248.45 L519.50,248.72 L520.00,248.98 L520.50,249.24 L521.00,249.50 L521.50,249.75 L522.00,250.00 L522.50,250.24 L523.00,250.48 L523.50,250.72 L524.00,250.95 L524.50,251.18 L525.00,251.41 L525.50,251.63 L526.00,251.85 L526.50,252.07 L527.00,252.28 L527.50,252.49 L528.00,252.70 L528.50,252.90 L529.00,253.10 L529.50,253.29 L530.00,253.48 L530.50,253.67 L531.00,253.85 L531.50,254.03 L532.00,254.21 L532.50,254.38" stroke="#9467bd"/>
<path d="M84.00,264.32 L84.50,264.16 L85.00,264.00 L85.50,263.83 L86.00,263.65 L86.50,263.46 L87.00,263.26 L87.50,263.05 L88.00,262.84 L88.50,262.62 L89.00,262.39 L89.50,262.15 L90.00,261.90 L90.50,261.65 L91.00,261.39 L91.50,261.12 L92.00,260.85 L92.50,260.57 L93.00,260.28 L93.50,259.99 L94.00,259.69 L94.50,259.38 L95.00,259.07 L95.50,258.75 L96.00,258.43 L96.50,258.10 L97.00,257.77 L97.50,257.43 L98.00,257.09 L98.50,256.74 L99.00,256.39 L99.50,256.03 L100.00,255.67 L100.50,255.31 L101.00,254.94 L101.50,254.57 L102.00,254.19 L102.50,253.81 L103.00,253.43 L103.50,253.05 L104.00,252.66 L104.50,252.27 L105.00,251.88 L105.50,251.49 L106.00,251.09 L106.50,250.69 L107.00,250.29 L107.50,249.89 L108.00,249.49 L108.50,249.09 L109.00,248.68 L109.50,248.28 L110.00,247.87 L110.50,247.46 L111.00,247.06 L111.50,246.65 L112.00,246.24 L112.50,245.84 L113.00,245.43 L113.50,245.03 L114.00,244.62 L114.50,244.22 L115.00,243.82 L115.50,243.42 L116.00,243.02 L116.50,242.62 L117.00,242.22 L117.50,241.83 L118.00,241.44 L118.50,241.05 L119.00,240.66 L119.50,240.28 L120.00,239.89 L120.50,239.52 L121.00,239.14 L121.50,238.77 L122.00,238.40 L122.50,238.03 L123.00,237.67 L123.50,237.30 L124.00,236.95 L124.50,236.59 L125.00,236.24 L125.50,235.88 L126.00,235.54 L126.50,235.19 L127.00,234.85 L127.50,234.50 L128.00,234.16 L128.50,233.83 L129.00,233.49 L129.50,233.16 L130.00,232.83 L130.50,232.50 L131.00,232.17 L131.50,231.85 L132.00,231.52 L132.50,231.20 L133.00,230.88 L133.50,230.57 L134.00,230.25 L134.50,229.94 L135.00,229.62 L135.50,229.31 L136.00,229.00 L136.50,228.69 L137.00,228.38 L137.50,228.08 L138.00,227.77 L138.50,227.47 L139.00,227.17 L139.50,226.86 L140.00,226.56 L140.50,226.26 L141.00,225.97 L141.50,225.67 L142.00,225.37 L142.50,225.07 L143.00,224.78 L143.50,224.48 L144.00,224.19 L144.50,223.90 L145.00,223.60 L145.50,223.31 L146.00,223.02 L146.50,222.73 L147.00,222.43 L147.50,222.14 L148.00,221.85 L148.50,221.56 L149.00,221.27 L149.50,220.98 L150.00,220.69 L150.50,220.40 L151.00,220.11 L151.50,219.82 L152.00,219.52 L152.50,219.23 L153.00,218.94 L153.50,218.65 L154.00,218.36 L154.50,218.07 L155.00,217.77 L155.50,217.48 L156.00,217.19 L156.50,216.90 L157.00,216.60 L157.50,216.31 L158.00,216.02 L158.50,215.72 L159.00,215.43 L159.50,215.13 L160.00,214.84 L160.50,214.54 L161.00,214.24 L161.50,213.95 L162.00,213.65 L162.50,213.35 L163.00,213.05 L163.50,212.76 L164.00,212.46 L164.50,212.16 L165.00,211.86 L165.50,211.56 L166.00,211.25 L166.50,210.95 L167.00,210.65 L167.50,210.34 L168.00,210.04 L168.50,209.73 L169.00,209.42 L169.50,209.11 L170.00,208.79 L170.50,208.48 L171.00,208.16 L171.50,207.84 L172.00,207.52 L172.50,207.20 L173.00,206.87 L173.50,206.54 L174.00,206.20 L174.50,205.87 L175.00,205.53 L175.50,205.18 L176.00,204.84 L176.50,204.48 L177.00,204.13 L177.50,203.77 L178.00,203.41 L178.50,203.04 L179.00,202.67 L179.50,202.29 L180.00,201.91 L180.50,201.52 L181.00,201.13 L181.50,200.74 L182.00,200.34 L182.50,199.94 L183.00,199.53 L183.50,199.13 L184.00,198.73 L184.50,198.32 L185.00,197.92 L185.50,197.51 L186.00,197.11 L186.50,196.71 L187.00,196.32 L187.50,195.92 L188.00,195.54 L188.50,195.15 L189.00,194.77 L189.50,194.39 L190.00,194.02 L190.50,193.65 L191.00,193.28 L191.50,192.92 L192.00,192.56 L192.50,192.20 L193.00,191.84 L193.50,191.48 L194.00,191.13 L194.50,190.78 L195.00,190.43 L195.50,190.07 L196.00,189.73 L196.50,189.38 L197.00,189.03 L197.50,188.68 L198.00,188.33 L198.50,187.98 L199.00,187.63 L199.50,187.28 L200.00,186.93 L200.50,186.57 L201.00,186.22 L201.50,185.86 L202.00,185.50 L202.50,185.14 L203.00,184.78 L203.50,184.41 L204.00,184.05 L204.50,183.67 L205.00,183.30 L205.50,182.92 L206.00,182.54 L206.50,182.15 L207.00,181.76 L207.50,181.36 L208.00,180.96 L208.50,180.56 L209.00,180.15 L209.50,179.73 L210.00,179.31 L210.50,178.88 L211.00,178.45 L211.50,178.01 L212.00,177.56 L212.50,177.11 L213.00,176.65 L213.50,176.18 L214.00,175.71 L214.50,175.23 L215.00,174.74 L215.50,174.25 L216.00,173.75 L216.50,173.25 L217.00,172.73 L217.50,172.21 L218.00,171.69 L218.50,171.16 L219.00,170.62 L219.50,170.08 L220.00,169.53 L220.50,168.97 L221.00,168.41 L221.50,167.84 L222.00,167.26 L222.50,166.68 L223.00,166.10 L223.50,165.51 L224.00,164.91 L224.50,164.30 L225.00,163.69 L225.50,163.08 L226.00,162.46 L226.50,161.83 L227.00,161.20 L227.50,160.56 L228.00,159.92 L228.50,159.27 L229.00,158.61 L229.50,157.95 L230.00,157.29 L230.50,156.62 L231.00,155.94 L231.50,155.26 L232.00,154.58 L232.50,153.89 L233.00,153.20 L233.50,152.50 L234.00,151.80 L234.50,151.09 L235.00,150.39 L235.50,149.68 L236.00,148.96 L236.50,148.25 L237.00,147.53 L237.50,146.81 L238.00,146.08 L238.50,145.36 L239.00,144.63 L239.50,143.90 L240.00,143.17 L240.50,142.44 L241.00,141.71 L241.50,140.98 L242.00,140.24 L242.50,139.51 L243.00,138.77 L243.50,138.04 L244.00,137.31 L244.50,136.57 L245.00,135.84 L245.50,135.11 L246.00,134.37 L246.50,133.64 L247.00,132.91 L247.50,132.19 L248.00,131.46 L248.50,130.73 L249.00,130.01 L249.50,129.29 L250.00,128.57 L250.50,127.86 L251.00,127.15 L251.50,126.44 L252.00,125.73 L252.50,125.03 L253.00,124.33 L253.50,123.64 L254.00,122.94 L254.50,122.26 L255.00,121.57 L255.50,120.90 L256.00,120.22 L256.50,119.56 L257.00,118.89 L257.50,118.23 L258.00,117.58 L258.50,116.94 L259.00,116.29 L259.50,115.66 L260.00,115.03 L260.50,114.41 L261.00,113.79 L261.50,113.19 L262.00,112.59 L262.50,111.99 L263.00,111.41 L263.50,110.83 L264.00,110.26 L264.50,109.69 L265.00,109.14 L265.50,108.59 L266.00,108.05 L266.50,107.53 L267.00,107.01 L267.50,106.50 L268.00,105.99 L268.50,105.50 L269.00,105.02 L269.50,104.55 L270.00,104.09 L270.50,103.64 L271.00,103.19 L271.50,102.76 L272.00,102.34 L272.50,101.93 L273.00,101.53 L273.50,101.13 L274.00,100.75 L274.50,100.37 L275.00,100.00 L275.50,99.63 L276.00,99.28 L276.50,98.93 L277.00,98.59 L277.50,98.25 L278.00,97.92 L278.50,97.60 L279.00,97.28 L279.50,96.96 L280.00,96.65 L280.50,96.35 L281.00,96.05 L281.50,95.75 L282.00,95.46 L282.50,95.17 L283.00,94.88 L283.50,94.59 L284.00,94.31 L284.50,94.03 L285.00,93.75 L285.50,93.47 L286.00,93.19 L286.50,92.92 L287.00,92.64 L287.50,92.37 L288.00,92.09 L288.50,91.81 L289.00,91.54 L289.50,91.27 L290.00,90.99 L290.50,90.72 L291.00,90.45 L291.50,90.17 L292.00,89.90 L292.50,89.63 L293.00,89.36 L293.50,89.09 L294.00,88.82 L294.50,88.55 L295.00,88.28 L295.50,88.01 L296.00,87.74 L296.50,87.48 L297.00,87.21 L297.50,86.94 L298.00,86.68 L298.50,86.41 L299.00,86.14 L299.50,85.88 L300.00,85.62 L300.50,85.35 L301.00,85.09 L301.50,84.83 L302.00,84.56 L302.50,84.30 L303.00,84.04 L303.50,83.78 L304.00,83.52 L304.50,83.26 L305.00,83.01 L305.50,82.75 L306.00,82.49 L306.50,82.23 L307.00,81.98 L307.50,81.72 L308.00,81.47 L308.50,81.21 L309.00,80.96 L309.50,80.71 L310.00,80.46 L310.50,80.20 L311.00,79.95 L311.50,79.70 L312.00,79.45 L312.50,79.20 L313.00,78.95 L313.50,78.69 L314.00,78.44 L314.50,78.18 L315.00,77.93 L315.50,77.67 L316.00,77.41 L316.50,77.14 L317.00,76.87 L317.50,76.60 L318.00,76.33 L318.50,76.05 L319.00,75.77 L319.50,75.48 L320.00,75.19 L320.50,74.90 L321.00,74.60 L321.50,74.29 L322.00,73.98 L322.50,73.66 L323.00,73.34 L323.50,73.01 L324.00,72.67 L324.50,72.33 L325.00,71.98 L325.50,71.62 L326.00,71.25 L326.50,70.88 L327.00,70.50 L327.50,70.10 L328.00,69.70 L328.50,69.29 L329.00,68.87 L329.50,68.45 L330.00,68.01 L330.50,67.56 L331.00,67.10 L331.50,66.64 L332.00,66.17 L332.50,65.70 L333.00,65.22 L333.50,64.74 L334.00,64.25 L334.50,63.76 L335.00,63.26 L335.50,62.77 L336.00,62.27 L336.50,61.78 L337.00,61.28 L337.50,60.79 L338.00,60.30 L338.50,59.81 L339.00,59.32 L339.50,58.84 L340.00,58.36 L340.50,57.89 L341.00,57.43 L341.50,56.97 L342.00,56.52 L342.50,56.07 L343.00,55.64 L343.50,55.22 L344.00,54.80 L344.50,54.40 L345.00,54.01 L345.50,53.63 L346.00,53.26 L346.50,52.91 L347.00,52.57 L347.50,52.25 L348.00,51.94 L348.50,51.65 L349.00,51.37 L349.50,51.11 L350.00,50.87 L350.50,50.65 L351.00,50.44 L351.50,50.25 L352.00,50.08 L352.50,49.94 L353.00,49.81 L353.50,49.70 L354.00,49.62 L354.50,49.56 L355.00,49.52 L355.50,49.50 L356.00,49.51 L356.50,49.54 L357.00,49.59 L357.50,49.67 L358.00,49.78 L358.50,49.91 L359.00,50.07 L359.50,50.26 L360.00,50.48 L360.50,50.72 L361.00,50.99 L361.50,51.30 L362.00,51.63 L362.50,51.99 L363.00,52.39 L363.50,52.82 L364.00,53.28 L364.50,53.77 L365.00,54.29 L365.50,54.84 L366.00,55.42 L366.50,56.03 L367.00,56.67 L367.50,57.33 L368.00,58.01 L368.50,58.72 L369.00,59.46 L369.50,60.21 L370.00,60.98 L370.50,61.78 L371.00,62.59 L371.50,63.41 L372.00,64.26 L372.50,65.12 L373.00,65.99 L373.50,66.88 L374.00,67.77 L374.50,68.68 L375.00,69.61 L375.50,70.54 L376.00,71.49 L376.50,72.45 L377.00,73.42 L377.50,74.40 L378.00,75.40 L378.50,76.40 L379.00,77.42 L379.50,78.45 L380.00,79.49 L380.50,80.54 L381.00,81.60 L381.50,82.68 L382.00,83.76 L382.50,84.85 L383.00,85.96 L383.50,87.08 L384.00,88.20 L384.50,89.33 L385.00,90.47 L385.50,91.62 L386.00,92.77 L386.50,93.93 L387.00,95.09 L387.50,96.26 L388.00,97.43 L388.50,98.60 L389.00,99.78 L389.50,100.96 L390.00,102.13 L390.50,103.31 L391.00,104.49 L391.50,105.66 L392.00,106.83 L392.50,108.00 L393.00,109.17 L393.50,110.33 L394.00,111.49 L394.50,112.64 L395.00,113.78 L395.50,114.92 L396.00,116.05 L396.50,117.17 L397.00,118.28 L397.50,119.38 L398.00,120.48 L398.50,121.56 L399.00,122.63 L399.50,123.69 L400.00,124.74 L400.50,125.78 L401.00,126.81 L401.50,127.83 L402.00,128.84 L402.50,129.83 L403.00,130.82 L403.50,131.80 L404.00,132.76 L404.50,133.71 L405.00,134.65 L405.50,135.58 L406.00,136.50 L406.50,137.41 L407.00,138.30 L407.50,139.18 L408.00,140.05 L408.50,140.91 L409.00,141.76 L409.50,142.59 L410.00,143.41 L410.50,144.22 L411.00,145.03 L411.50,145.82 L412.00,146.60 L412.50,147.36 L413.00,148.12 L413.50,148.87 L414.00,149.61 L414.50,150.34 L415.00,151.06 L415.50,151.78 L416.00,152.48 L416.50,153.18 L417.00,153.86 L417.50,154.54 L418.00,155.21 L418.50,155.88 L419.00,156.54 L419.50,157.18 L420.00,157.83 L420.50,158.46 L421.00,159.09 L421.50,159.72 L422.00,160.34 L422.50,160.95 L423.00,161.56 L423.50,162.16 L424.00,162.75 L424.50,163.35 L425.00,163.94 L425.50,164.52 L426.00,165.11 L426.50,165.69 L427.00,166.27 L427.50,166.85 L428.00,167.43 L428.50,168.01 L429.00,168.59 L429.50,169.17 L430.00,169.75 L430.50,170.34 L431.00,170.92 L431.50,171.52 L432.00,172.11 L432.50,172.71 L433.00,173.32 L433.50,173.93 L434.00,174.55 L434.50,175.17 L435.00,175.80 L435.50,176.44 L436.00,177.09 L436.50,177.74 L437.00,178.41 L437.50,179.09 L438.00,179.77 L438.50,180.47 L439.00,181.18 L439.50,181.90 L440.00,182.63 L440.50,183.37 L441.00,184.12 L441.50,184.87 L442.00,185.64 L442.50,186.41 L443.00,187.19 L443.50,187.98 L444.00,188.78 L444.50,189.58 L445.00,190.38 L445.50,191.19 L446.00,192.01 L446.50,192.83 L447.00,193.65 L447.50,194.47 L448.00,195.30 L448.50,196.13 L449.00,196.97 L449.50,197.80 L450.00,198.64 L450.50,199.47 L451.00,200.31 L451.50,201.14 L452.00,201.98 L452.50,202.81 L453.00,203.64 L453.50,204.47 L454.00,205.29 L454.50,206.11 L455.00,206.93 L455.50,207.75 L456.00,208.56 L456.50,209.37 L457.00,210.17 L457.50,210.97 L458.00,211.76 L458.50,212.55 L459.00,213.33 L459.50,214.11 L460.00,214.88 L460.50,215.65 L461.00,216.41 L461.50,217.16 L462.00,217.91 L462.50,218.65 L463.00,219.38 L463.50,220.11 L464.00,220.83 L464.50,221.54 L465.00,222.24 L465.50,222.93 L466.00,223.62 L466.50,224.30 L467.00,224.97 L467.50,225.63 L468.00,226.28 L468.50,226.92 L469.00,227.55 L469.50,228.17 L470.00,228.78 L470.50,229.38 L471.00,229.97 L471.50,230.56 L472.00,231.13 L472.50,231.70 L473.00,232.26 L473.50,232.81 L474.00,233.35 L474.50,233.88 L475.00,234.40 L475.50,234.92 L476.00,235.43 L476.50,235.93 L477.00,236.42 L477.50,236.90 L478.00,237.38 L478.50,237.85 L479.00,238.31 L479.50,238.76 L480.00,239.21 L480.50,239.65 L481.00,240.08 L481.50,240.51 L482.00,240.93 L482.50,241.34 L483.00,241.75 L483.50,242.15 L484.00,242.54 L484.50,242.93 L485.00,243.31 L485.50,243.69 L486.00,244.06 L486.50,244.42 L487.00,244.78 L487.50,245.14 L488.00,245.49 L488.50,245.83 L489.00,246.17 L489.50,246.50 L490.00,246.83 L490.50,247.15 L491.00,247.47 L491.50,247.78 L492.00,248.09 L492.50,248.40 L493.00,248.70 L493.50,248.99 L494.00,249.28 L494.50,249.57 L495.00,249.86 L495.50,250.14 L496.00,250.42 L496.50,250.69 L497.00,250.96 L497.50,251.23 L498.00,251.49 L498.50,251.76 L499.00,252.01 L499.50,252.27 L500.00,252.52 L500.50,252.77 L501.00,253.02 L501.50,253.27 L502.00,253.51 L502.50,253.75 L503.00,253.99 L503.50,254.23 L504.00,254.46 L504.50,254.69 L505.00,254.92 L505.50,255.15 L506.00,255.37 L506.50,255.60 L507.00,255.82 L507.50,256.04 L508.00,256.25 L508.50,256.47 L509.00,256.68 L509.50,256.89 L510.00,257.10 L510.50,257.31 L511.00,257.52 L511.50,257.72 L512.00,257.92 L512.50,258.12 L513.00,258.32 L513.50,258.52 L514.00,258.72 L514.50,258.91 L515.00,259.11 L515.50,259.30 L516.00,259.49 L516.50,259.68 L517.00,259.87 L517.50,260.05 L518.00,260.24 L518.50,260.43 L519.00,260.61 L519.50,260.79 L520.00,260.97 L520.50,261.15 L521.00,261.33 L521.50,261.51 L522.00,261.69 L522.50,261.87 L523.00,262.04 L523.50,262.22 L524.00,262.40 L524.50,262.57 L525.00,262.74 L525.50,262.92 L526.00,263.09 L526.50,263.26 L527.00,263.43 L527.50,263.60 L528.00,263.77 L528.50,263.94 L529.00,264.11 L529.50,264.28 L530.00,264.45 L530.50,264.62 L531.00,264.79 L531.50,264.96 L532.00,265.13 L532.50,265.30" stroke="#8c564b"/>
<path d="M84.50,264.07 L85.00,264.13 L85.50,264.18 L86.00,264.24 L86.50,264.29 L87.00,264.34 L87.50,264.38 L88.00,264.42 L88.50,264.46 L89.00,264.49 L89.50,264.53 L90.00,264.55 L90.50,264.58 L91.00,264.60 L91.50,264.61 L92.00,264.63 L92.50,264.64 L93.00,264.64 L93.50,264.65 L94.00,264.65 L94.50,264.64 L95.00,264.63 L95.50,264.62 L96.00,264.60 L96.50,264.58 L97.00,264.56 L97.50,264.53 L98.00,264.50 L98.50,264.47 L99.00,264.43 L99.50,264.38 L100.00,264.33 L100.50,264.28 L101.00,264.23 L101.50,264.17 L102.00,264.10 L102.50,264.03 L103.00,263.96 L103.50,263.88 L104.00,263.80 L104.50,263.72 L105.00,263.63 L105.50,263.53 L106.00,263.43 L106.50,263.33 L107.00,263.22 L107.50,263.11 L108.00,262.99 L108.50,262.87 L109.00,262.74 L109.50,262.61 L110.00,262.48 L110.50,262.34 L111.00,262.19 L111.50,262.04 L112.00,261.89 L112.50,261.73 L113.00,261.56 L113.50,261.39 L114.00,261.22 L114.50,261.04 L115.00,260.86 L115.50,260.67 L116.00,260.47 L116.50,260.27 L117.00,260.07 L117.50,259.86 L118.00,259.64 L118.50,259.42 L119.00,259.20 L119.50,258.97 L120.00,258.73 L120.50,258.49 L121.00,258.24 L121.50,257.99 L122.00,257.73 L122.50,257.47 L123.00,257.20 L123.50,256.92 L124.00,256.64 L124.50,256.36 L125.00,256.07 L125.50,255.77 L126.00,255.47 L126.50,255.16 L127.00,254.84 L127.50,254.52 L128.00,254.20 L128.50,253.87 L129.00,253.53 L129.50,253.19 L130.00,252.84 L130.50,252.49 L131.00,252.14 L131.50,251.78 L132.00,251.41 L132.50,251.05 L133.00,250.68 L133.50,250.31 L134.00,249.93 L134.50,249.55 L135.00,249.17 L135.50,248.79 L136.00,248.40 L136.50,248.02 L137.00,247.63 L137.50,247.24 L138.00,246.85 L138.50,246.46 L139.00,246.07 L139.50,245.68 L140.00,245.28 L140.50,244.89 L141.00,244.50 L141.50,244.11 L142.00,243.72 L142.50,243.33 L143.00,242.94 L143.50,242.56 L144.00,242.17 L144.50,241.79 L145.00,241.41 L145.50,241.04 L146.00,240.66 L146.50,240.29 L147.00,239.92 L147.50,239.55 L148.00,239.19 L148.50,238.83 L149.00,238.47 L149.50,238.12 L150.00,237.76 L150.50,237.41 L151.00,237.06 L151.50,236.72 L152.00,236.37 L152.50,236.03 L153.00,235.70 L153.50,235.36 L154.00,235.03 L154.50,234.70 L155.00,234.37 L155.50,234.05 L156.00,233.72 L156.50,233.40 L157.00,233.09 L157.50,232.77 L158.00,232.46 L158.50,232.15 L159.00,231.84 L159.50,231.54 L160.00,231.23 L160.50,230.94 L161.00,230.64 L161.50,230.34 L162.00,230.05 L162.50,229.76 L163.00,229.47 L163.50,229.19 L164.00,228.91 L164.50,228.63 L165.00,228.35 L165.50,228.07 L166.00,227.80 L166.50,227.53 L167.00,227.26 L167.50,227.00 L168.00,226.73 L168.50,226.47 L169.00,226.22 L169.50,225.96 L170.00,225.71 L170.50,225.46 L171.00,225.21 L171.50,224.96 L172.00,224.72 L172.50,224.48 L173.00,224.24 L173.50,224.00 L174.00,223.77 L174.50,223.53 L175.00,223.30 L175.50,223.08 L176.00,222.85 L176.50,222.63 L177.00,222.41 L177.50,222.19 L178.00,221.97 L178.50,221.75 L179.00,221.53 L179.50,221.31 L180.00,221.09 L180.50,220.88 L181.00,220.66 L181.50,220.44 L182.00,220.21 L182.50,219.99 L183.00,219.77 L183.50,219.54 L184.00,219.31 L184.50,219.07 L185.00,218.84 L185.50,218.60 L186.00,218.35 L186.50,218.11 L187.00,217.85 L187.50,217.60 L188.00,217.34 L188.50,217.07 L189.00,216.80 L189.50,216.52 L190.00,216.23 L190.50,215.94 L191.00,215.65 L191.50,215.35 L192.00,215.04 L192.50,214.73 L193.00,214.42 L193.50,214.10 L194.00,213.77 L194.50,213.45 L195.00,213.11 L195.50,212.78 L196.00,212.44 L196.50,212.09 L197.00,211.75 L197.50,211.39 L198.00,211.04 L198.50,210.68 L199.00,210.32 L199.50,209.96 L200.00,209.60 L200.50,209.23 L201.00,208.86 L201.50,208.49 L202.00,208.11 L202.50,207.74 L203.00,207.36 L203.50,206.99 L204.00,206.61 L204.50,206.23 L205.00,205.86 L205.50,205.48 L206.00,205.10 L206.50,204.72 L207.00,204.35 L207.50,203.97 L208.00,203.60 L208.50,203.23 L209.00,202.86 L209.50,202.49 L210.00,202.12 L210.50,201.76 L211.00,201.40 L211.50,201.04 L212.00,200.69 L212.50,200.34 L213.00,199.99 L213.50,199.65 L214.00,199.31 L214.50,198.98 L215.00,198.65 L215.50,198.32 L216.00,198.01 L216.50,197.69 L217.00,197.39 L217.50,197.08 L218.00,196.79 L218.50,196.50 L219.00,196.22 L219.50,195.94 L220.00,195.68 L220.50,195.42 L221.00,195.17 L221.50,194.92 L222.00,194.69 L222.50,194.46 L223.00,194.24 L223.50,194.03 L224.00,193.83 L224.50,193.64 L225.00,193.46 L225.50,193.29 L226.00,193.13 L226.50,192.97 L227.00,192.83 L227.50,192.69 L228.00,192.56 L228.50,192.44 L229.00,192.32 L229.50,192.20 L230.00,192.09 L230.50,191.99 L231.00,191.88 L231.50,191.78 L232.00,191.68 L232.50,191.58 L233.00,191.49 L233.50,191.39 L234.00,191.29 L234.50,191.19 L235.00,191.08 L235.50,190.98 L236.00,190.87 L236.50,190.75 L237.00,190.64 L237.50,190.51 L238.00,190.38 L238.50,190.24 L239.00,190.10 L239.50,189.95 L240.00,189.79 L240.50,189.62 L241.00,189.44 L241.50,189.25 L242.00,189.04 L242.50,188.83 L243.00,188.60 L243.50,188.37 L244.00,188.11 L244.50,187.85 L245.00,187.57 L245.50,187.29 L246.00,186.99 L246.50,186.68 L247.00,186.36 L247.50,186.03 L248.00,185.69 L248.50,185.34 L249.00,184.99 L249.50,184.62 L250.00,184.25 L250.50,183.88 L251.00,183.49 L251.50,183.10 L252.00,182.70 L252.50,182.30 L253.00,181.89 L253.50,181.48 L254.00,181.07 L254.50,180.65 L255.00,180.22 L255.50,179.80 L256.00,179.37 L256.50,178.94 L257.00,178.51 L257.50,178.08 L258.00,177.64 L258.50,177.21 L259.00,176.78 L259.50,176.34 L260.00,175.91 L260.50,175.48 L261.00,175.06 L261.50,174.63 L262.00,174.21 L262.50,173.79 L263.00,173.37 L263.50,172.96 L264.00,172.55 L264.50,172.14 L265.00,171.73 L265.50,171.33 L266.00,170.93 L266.50,170.54 L267.00,170.14 L267.50,169.75 L268.00,169.36 L268.50,168.97 L269.00,168.58 L269.50,168.20 L270.00,167.81 L270.50,167.43 L271.00,167.05 L271.50,166.67 L272.00,166.29 L272.50,165.92 L273.00,165.54 L273.50,165.17 L274.00,164.79 L274.50,164.42 L275.00,164.05 L275.50,163.68 L276.00,163.31 L276.50,162.94 L277.00,162.56 L277.50,162.19 L278.00,161.82 L278.50,161.45 L279.00,161.08 L279.50,160.71 L280.00,160.34 L280.50,159.97 L281.00,159.59 L281.50,159.22 L282.00,158.85 L282.50,158.47 L283.00,158.10 L283.50,157.72 L284.00,157.34 L284.50,156.96 L285.00,156.58 L285.50,156.20 L286.00,155.81 L286.50,155.43 L287.00,155.04 L287.50,154.65 L288.00,154.25 L288.50,153.86 L289.00,153.46 L289.50,153.05 L290.00,152.64 L290.50,152.23 L291.00,151.81 L291.50,151.39 L292.00,150.96 L292.50,150.53 L293.00,150.08 L293.50,149.64 L294.00,149.18 L294.50,148.72 L295.00,148.24 L295.50,147.77 L296.00,147.28 L296.50,146.78 L297.00,146.27 L297.50,145.76 L298.00,145.23 L298.50,144.69 L299.00,144.15 L299.50,143.59 L300.00,143.02 L300.50,142.44 L301.00,141.84 L301.50,141.24 L302.00,140.62 L302.50,139.98 L303.00,139.34 L303.50,138.67 L304.00,138.00 L304.50,137.31 L305.00,136.61 L305.50,135.89 L306.00,135.16 L306.50,134.41 L307.00,133.66 L307.50,132.89 L308.00,132.11 L308.50,131.32 L309.00,130.52 L309.50,129.71 L310.00,128.90 L310.50,128.07 L311.00,127.24 L311.50,126.40 L312.00,125.55 L312.50,124.69 L313.00,123.83 L313.50,122.97 L314.00,122.10 L314.50,121.22 L315.00,120.35 L315.50,119.47 L316.00,118.58 L316.50,117.70 L317.00,116.81 L317.50,115.92 L318.00,115.03 L318.50,114.15 L319.00,113.26 L319.50,112.37 L320.00,111.49 L320.50,110.61 L321.00,109.73 L321.50,108.85 L322.00,107.98 L322.50,107.11 L323.00,106.24 L323.50,105.38 L324.00,104.53 L324.50,103.68 L325.00,102.83 L325.50,101.98 L326.00,101.14 L326.50,100.30 L327.00,99.46 L327.50,98.63 L328.00,97.80 L328.50,96.97 L329.00,96.14 L329.50,95.32 L330.00,94.50 L330.50,93.68 L331.00,92.86 L331.50,92.04 L332.00,91.22 L332.50,90.41 L333.00,89.60 L333.50,88.78 L334.00,87.97 L334.50,87.16 L335.00,86.35 L335.50,85.54 L336.00,84.72 L336.50,83.91 L337.00,83.10 L337.50,82.29 L338.00,81.48 L338.50,80.66 L339.00,79.85 L339.50,79.03 L340.00,78.22 L340.50,77.40 L341.00,76.58 L341.50,75.76 L342.00,74.93 L342.50,74.11 L343.00,73.28 L343.50,72.45 L344.00,71.62 L344.50,70.79 L345.00,69.95 L345.50,69.11 L346.00,68.26 L346.50,67.42 L347.00,66.57 L347.50,65.72 L348.00,64.87 L348.50,64.03 L349.00,63.19 L349.50,62.35 L350.00,61.51 L350.50,60.69 L351.00,59.87 L351.50,59.05 L352.00,58.25 L352.50,57.46 L353.00,56.67 L353.50,55.90 L354.00,55.14 L354.50,54.40 L355.00,53.67 L355.50,52.96 L356.00,52.27 L356.50,51.59 L357.00,50.93 L357.50,50.30 L358.00,49.68 L358.50,49.09 L359.00,48.52 L359.50,47.98 L360.00,47.46 L360.50,46.96 L361.00,46.49 L361.50,46.04 L362.00,45.61 L362.50,45.21 L363.00,44.83 L363.50,44.48 L364.00,44.14 L364.50,43.83 L365.00,43.54 L365.50,43.28 L366.00,43.03 L366.50,42.80 L367.00,42.60 L367.50,42.41 L368.00,42.25 L368.50,42.11 L369.00,41.98 L369.50,41.88 L370.00,41.79 L370.50,41.73 L371.00,41.68 L371.50,41.65 L372.00,41.64 L372.50,41.64 L373.00,41.67 L373.50,41.71 L374.00,41.77 L374.50,41.84 L375.00,41.94 L375.50,42.04 L376.00,42.17 L376.50,42.31 L377.00,42.47 L377.50,42.64 L378.00,42.82 L378.50,43.02 L379.00,43.24 L379.50,43.47 L380.00,43.71 L380.50,43.97 L381.00,44.24 L381.50,44.53 L382.00,44.83 L382.50,45.14 L383.00,45.47 L383.50,45.81 L384.00,46.17 L384.50,46.53 L385.00,46.91 L385.50,47.31 L386.00,47.71 L386.50,48.13 L387.00,48.56 L387.50,49.00 L388.00,49.46 L388.50,49.92 L389.00,50.40 L389.50,50.89 L390.00,51.39 L390.50,51.90 L391.00,52.43 L391.50,52.96 L392.00,53.51 L392.50,54.07 L393.00,54.63 L393.50,55.21 L394.00,55.80 L394.50,56.40 L395.00,57.01 L395.50,57.62 L396.00,58.25 L396.50,58.89 L397.00,59.54 L397.50,60.19 L398.00,60.85 L398.50,61.52 L399.00,62.19 L399.50,62.87 L400.00,63.54 L400.50,64.22 L401.00,64.90 L401.50,65.59 L402.00,66.27 L402.50,66.95 L403.00,67.62 L403.50,68.29 L404.00,68.96 L404.50,69.62 L405.00,70.28 L405.50,70.93 L406.00,71.56 L406.50,72.20 L407.00,72.81 L407.50,73.42 L408.00,74.02 L408.50,74.60 L409.00,75.18 L409.50,75.74 L410.00,76.29 L410.50,76.83 L411.00,77.36 L411.50,77.89 L412.00,78.40 L412.50,78.91 L413.00,79.40 L413.50,79.89 L414.00,80.38 L414.50,80.85 L415.00,81.33 L415.50,81.79 L416.00,82.25 L416.50,82.71 L417.00,83.16 L417.50,83.61 L418.00,84.06 L418.50,84.50 L419.00,84.94 L419.50,85.38 L420.00,85.82 L420.50,86.26 L421.00,86.69 L421.50,87.13 L422.00,87.57 L422.50,88.01 L423.00,88.45 L423.50,88.89 L424.00,89.34 L424.50,89.79 L425.00,90.24 L425.50,90.70 L426.00,91.16 L426.50,91.62 L427.00,92.09 L427.50,92.57 L428.00,93.05 L428.50,93.54 L429.00,94.04 L429.50,94.55 L430.00,95.06 L430.50,95.58 L431.00,96.11 L431.50,96.65 L432.00,97.20 L432.50,97.77 L433.00,98.34 L433.50,98.92 L434.00,99.51 L434.50,100.11 L435.00,100.73 L435.50,101.35 L436.00,101.99 L436.50,102.63 L437.00,103.29 L437.50,103.96 L438.00,104.64 L438.50,105.33 L439.00,106.03 L439.50,106.74 L440.00,107.47 L440.50,108.21 L441.00,108.96 L441.50,109.72 L442.00,110.49 L442.50,111.27 L443.00,112.07 L443.50,112.88 L444.00,113.70 L444.50,114.53 L445.00,115.38 L445.50,116.24 L446.00,117.11 L446.50,118.00 L447.00,118.89 L447.50,119.80 L448.00,120.73 L448.50,121.66 L449.00,122.61 L449.50,123.57 L450.00,124.55 L450.50,125.54 L451.00,126.54 L451.50,127.56 L452.00,128.59 L452.50,129.63 L453.00,130.69 L453.50,131.76 L454.00,132.85 L454.50,133.95 L455.00,135.06 L455.50,136.19 L456.00,137.34 L456.50,138.49 L457.00,139.67 L457.50,140.85 L458.00,142.05 L458.50,143.27 L459.00,144.50 L459.50,145.75 L460.00,147.00 L460.50,148.27 L461.00,149.55 L461.50,150.84 L462.00,152.15 L462.50,153.46 L463.00,154.77 L463.50,156.10 L464.00,157.43 L464.50,158.77 L465.00,160.11 L465.50,161.46 L466.00,162.82 L466.50,164.17 L467.00,165.53 L467.50,166.89 L468.00,168.25 L468.50,169.62 L469.00,170.98 L469.50,172.34 L470.00,173.70 L470.50,175.05 L471.00,176.41 L471.50,177.76 L472.00,179.10 L472.50,180.44 L473.00,181.77 L473.50,183.10 L474.00,184.42 L474.50,185.73 L475.00,187.03 L475.50,188.32 L476.00,189.60 L476.50,190.87 L477.00,192.13 L477.50,193.37 L478.00,194.60 L478.50,195.82 L479.00,197.02 L479.50,198.21 L480.00,199.38 L480.50,200.53 L481.00,201.67 L481.50,202.79 L482.00,203.89 L482.50,204.98 L483.00,206.05 L483.50,207.10 L484.00,208.13 L484.50,209.15 L485.00,210.15 L485.50,211.14 L486.00,212.11 L486.50,213.06 L487.00,213.99 L487.50,214.91 L488.00,215.81 L488.50,216.70 L489.00,217.57 L489.50,218.42 L490.00,219.26 L490.50,220.08 L491.00,220.88 L491.50,221.67 L492.00,222.44 L492.50,223.19 L493.00,223.93 L493.50,224.65 L494.00,225.36 L494.50,226.05 L495.00,226.73 L495.50,227.39 L496.00,228.04 L496.50,228.67 L497.00,229.29 L497.50,229.89 L498.00,230.48 L498.50,231.06 L499.00,231.63 L499.50,232.18 L500.00,232.72 L500.50,233.25 L501.00,233.76 L501.50,234.27 L502.00,234.76 L502.50,235.24 L503.00,235.71 L503.50,236.16 L504.00,236.61 L504.50,237.05 L505.00,237.48 L505.50,237.89 L506.00,238.30 L506.50,238.70 L507.00,239.09 L507.50,239.46 L508.00,239.84 L508.50,240.20 L509.00,240.55 L509.50,240.90 L510.00,241.23 L510.50,241.56 L511.00,241.89 L511.50,242.20 L512.00,242.51 L512.50,242.82 L513.00,243.11 L513.50,243.40 L514.00,243.69 L514.50,243.97 L515.00,244.24 L515.50,244.51 L516.00,244.77 L516.50,245.03 L517.00,245.28 L517.50,245.53 L518.00,245.78 L518.50,246.02 L519.00,246.26 L519.50,246.50 L520.00,246.73 L520.50,246.96 L521.00,247.19 L521.50,247.41 L522.00,247.64 L522.50,247.86 L523.00,248.08 L523.50,248.30 L524.00,248.51 L524.50,248.73 L525.00,248.95 L525.50,249.16 L526.00,249.38 L526.50,249.60 L527.00,249.81 L527.50,250.03 L528.00,250.25 L528.50,250.47 L529.00,250.69 L529.50,250.91 L530.00,251.14 L530.50,251.36 L531.00,251.59 L531.50,251.82 L532.00,252.06 L532.50,252.30" stroke="#e377c2"/>
</g>
<g stroke="#000" stroke-width="0.8" stroke-linecap="square">
<line x1="85.5" y1="10.5" x2="85.5" y2="282.5"/>
<line x1="531.5" y1="10.5" x2="531.5" y2="282.5"/>
<line x1="85.5" y1="282.5" x2="531.5" y2="282.5"/>
<line x1="85.5" y1="10.5" x2="531.5" y2="10.5"/>
</g>
<g stroke="#000" stroke-width="0.8">
<line x1="85.5" y1="282.5" x2="85.5" y2="286.6"/>
<line x1="154.5" y1="282.5" x2="154.5" y2="286.6"/>
<line x1="222.5" y1="282.5" x2="222.5" y2="286.6"/>
<line x1="291.5" y1="282.5" x2="291.5" y2="286.6"/>
<line x1="360.5" y1="282.5" x2="360.5" y2="286.6"/>
<line x1="428.5" y1="282.5" x2="428.5" y2="286.6"/>
<line x1="497.5" y1="282.5" x2="497.5" y2="286.6"/>
<line x1="82.0" y1="271.5" x2="85.5" y2="271.5"/>
<line x1="82.0" y1="237.5" x2="85.5" y2="237.5"/>
<line x1="82.0" y1="203.5" x2="85.5" y2="203.5"/>
<line x1="82.0" y1="168.5" x2="85.5" y2="168.5"/>
<line x1="82.0" y1="134.5" x2="85.5" y2="134.5"/>
<line x1="82.0" y1="100.5" x2="85.5" y2="100.5"/>
<line x1="82.0" y1="65.5" x2="85.5" y2="65.5"/>
<line x1="82.0" y1="31.5" x2="85.5" y2="31.5"/>
</g>
<g font-family="DejaVu Sans, sans-serif" font-size="14px" fill="#000" letter-spacing="-0.2px">
<text x="85.3" y="300.1" text-anchor="middle">−80</text>
<text x="153.9" y="300.1" text-anchor="middle">−60</text>
<text x="222.5" y="300.1" text-anchor="middle">−40</text>
<text x="291.1" y="300.1" text-anchor="middle">−20</text>
<text x="360.3" y="300.1" text-anchor="middle">0</text>
<text x="428.3" y="300.1" text-anchor="middle">20</text>
<text x="496.9" y="300.1" text-anchor="middle">40</text>
<text x="77.6" y="277.55" text-anchor="end">0.0000</text>
<text x="77.6" y="243.25" text-anchor="end">0.0025</text>
<text x="77.6" y="208.95" text-anchor="end">0.0050</text>
<text x="77.6" y="174.65" text-anchor="end">0.0075</text>
<text x="77.6" y="140.35" text-anchor="end">0.0100</text>
<text x="77.6" y="106.05" text-anchor="end">0.0125</text>
<text x="77.6" y="71.75" text-anchor="end">0.0150</text>
<text x="77.6" y="37.45" text-anchor="end">0.0175</text>
</g>
<text x="308.5" y="320.9" font-family="DejaVu Sans, sans-serif" font-size="18px" text-anchor="middle">Angle</text>
<text transform="translate(22.3,148.8) rotate(-90)" font-family="DejaVu Sans, sans-serif" font-size="18px" text-anchor="middle">Density</text>
<rect x="540.5" y="19.5" width="170.0" height="194.0" rx="3.6" ry="3.6" fill="#fff" fill-opacity="0.8" stroke="#cccccc" stroke-width="0.8"/>
<line x1="548" y1="33.90" x2="584" y2="33.90" stroke="#1f77b4" stroke-width="1.5" stroke-linecap="square"/>
<text x="599.1" y="40.90" font-family="DejaVu Sans, sans-serif" font-size="18px">White</text>
<line x1="548" y1="60.95" x2="584" y2="60.95" stroke="#ff7f0e" stroke-width="1.5" stroke-linecap="square"/>
<text x="599.1" y="67.95" font-family="DejaVu Sans, sans-serif" font-size="18px">Black</text>
<line x1="548" y1="88.00" x2="584" y2="88.00" stroke="#2ca02c" stroke-width="1.5" stroke-linecap="square"/>
<text x="599.1" y="95.00" font-family="DejaVu Sans, sans-serif" font-size="18px">Latino</text>
<line x1="548" y1="115.05" x2="584" y2="115.05" stroke="#d62728" stroke-width="1.5" stroke-linecap="square"/>
<text x="599.1" y="122.05" font-family="DejaVu Sans, sans-serif" font-size="18px">East Asian</text>
<line x1="548" y1="142.10" x2="584" y2="142.10" stroke="#9467bd" stroke-width="1.5" stroke-linecap="square"/>
<text x="599.1" y="149.10" font-family="DejaVu Sans, sans-serif" font-size="18px">SE Asian</text>
<line x1="548" y1="169.15" x2="584" y2="169.15" stroke="#8c564b" stroke-width="1.5" stroke-linecap="square"/>
<text x="599.1" y="176.15" font-family="DejaVu Sans, sans-serif" font-size="18px">Indian</text>
<line x1="548" y1="196.20" x2="584" y2="196.20" stroke="#e377c2" stroke-width="1.5" stroke-linecap="square"/>
<text x="599.1" y="203.20" font-family="DejaVu Sans, sans-serif" font-size="18px">Middle-East</text>
</svg>
</body></html>
